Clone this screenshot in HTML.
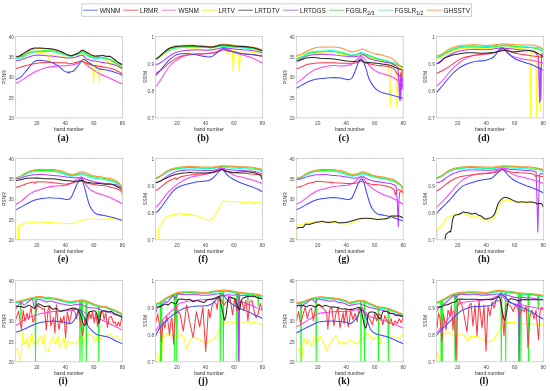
<!DOCTYPE html><html><head><meta charset="utf-8"><style>html,body{margin:0;padding:0;background:#fff;}svg{display:block}</style></head><body>
<svg width="550" height="391" viewBox="0 0 550 391" font-family="Liberation Sans, Arial, sans-serif">
<rect width="550" height="391" fill="#fff"/>
<clipPath id="ca"><rect x="15.50" y="36.50" width="106.90" height="81.40"/></clipPath>
<g clip-path="url(#ca)" fill="none" stroke-width="1.05" stroke-linejoin="round" stroke-linecap="round">
<path stroke="#ffff1a" d="M15.7,58.9C16.5,58.8 19.0,58.9 20.5,58.5C22.0,58.0 23.2,56.9 24.9,56.1C26.5,55.3 28.5,54.1 30.3,53.5C32.1,52.9 33.4,52.5 35.7,52.4C38.1,52.3 42.4,52.5 44.4,52.8C46.4,53.2 47.2,54.3 47.7,54.6L48.8,60.0C49.1,59.3 49.6,56.7 50.5,55.7C51.4,54.6 52.9,53.7 54.2,53.5C55.6,53.3 57.5,53.8 58.6,54.6C59.7,55.3 60.0,57.6 60.7,57.8C61.5,58.0 62.0,55.4 62.9,55.7C63.8,55.9 65.3,59.2 66.2,59.3C67.1,59.5 67.3,57.2 68.3,56.7C69.4,56.2 70.9,56.7 72.7,56.3C74.5,55.9 77.5,55.0 79.2,54.6C80.9,54.1 82.1,53.6 82.7,53.4L84.0,59.2L85.3,65.6L86.5,60.5L87.8,67.5L89.1,61.7C89.4,61.8 90.4,60.9 91.0,62.4C91.7,63.9 92.6,69.3 92.9,70.7L93.6,82.8L94.5,65.6C94.9,65.4 96.1,63.0 96.8,64.3C97.5,65.6 98.4,71.8 98.7,73.2L99.3,82.8L100.2,68.1C100.6,67.3 101.5,64.3 102.5,63.0C103.5,61.7 105.3,60.5 106.4,60.5C107.4,60.5 108.5,62.6 108.9,63.0L110.2,65.6L111.5,61.7C111.9,62.2 113.2,63.7 114.0,64.3C114.9,64.9 115.7,65.0 116.6,65.6C117.4,66.1 118.2,66.9 119.2,67.5C120.1,68.1 121.8,69.1 122.3,69.4"/>
<path stroke="#1affff" d="M15.7,58.3C16.5,58.2 19.0,58.5 20.5,58.0C22.0,57.6 23.2,56.5 24.9,55.7C26.5,54.8 28.5,53.7 30.3,53.0C32.1,52.4 33.7,52.0 35.7,51.7C37.7,51.5 40.1,51.6 42.3,51.5C44.4,51.5 46.8,51.5 48.8,51.5C50.8,51.6 52.4,51.4 54.2,51.7C56.0,52.0 57.8,52.7 59.7,53.3C61.5,53.8 63.5,54.5 65.1,55.0C66.7,55.5 68.0,56.2 69.4,56.3C70.9,56.4 72.2,56.1 73.8,55.7C75.4,55.3 77.7,54.4 79.2,53.9C80.7,53.4 81.4,52.4 82.7,52.8C84.0,53.1 85.2,55.0 87.2,56.0C89.2,56.9 92.5,58.2 94.9,58.5C97.2,58.9 98.9,57.8 101.2,57.9C103.6,58.0 106.4,58.4 108.9,59.2C111.5,59.9 114.4,61.4 116.6,62.4C118.8,63.3 121.4,64.5 122.3,64.9"/>
<path stroke="#1aff1a" d="M15.7,57.2C16.5,57.1 19.0,57.4 20.5,57.0C22.0,56.5 23.2,55.4 24.9,54.6C26.5,53.7 28.5,52.6 30.3,52.0C32.1,51.3 33.7,51.1 35.7,50.9C37.7,50.7 40.1,50.7 42.3,50.7C44.4,50.6 46.8,50.6 48.8,50.7C50.8,50.7 52.4,50.6 54.2,50.9C56.0,51.2 57.8,51.8 59.7,52.4C61.5,52.9 63.5,53.6 65.1,54.1C66.7,54.7 68.0,55.5 69.4,55.7C70.9,55.8 72.2,55.4 73.8,55.0C75.4,54.6 77.7,53.6 79.2,53.0C80.7,52.5 81.4,51.2 82.7,51.5C84.0,51.8 85.2,53.6 87.2,54.7C89.2,55.8 92.5,57.5 94.9,57.9C97.2,58.3 98.9,57.1 101.2,57.3C103.6,57.5 106.4,58.1 108.9,59.2C111.5,60.2 114.4,62.3 116.6,63.7C118.8,65.0 121.4,66.9 122.3,67.5"/>
<path stroke="#ff40ff" d="M15.7,83.3C16.5,82.9 18.6,82.2 20.5,81.1C22.4,80.0 24.5,78.3 27.0,76.7C29.6,75.1 32.5,73.0 35.7,71.5C39.0,70.0 43.0,68.5 46.6,67.6C50.2,66.7 53.9,66.4 57.5,66.1C61.1,65.7 65.4,65.7 68.3,65.4C71.2,65.1 73.1,64.8 74.9,64.3C76.7,63.9 78.0,63.4 79.2,62.8C80.4,62.3 81.0,60.9 82.1,61.1C83.2,61.3 84.0,62.8 85.9,64.3C87.8,65.8 91.0,68.3 93.6,70.1C96.1,71.8 98.7,73.2 101.2,74.5C103.8,75.8 106.4,76.6 108.9,77.7C111.5,78.9 114.4,80.5 116.6,81.6C118.8,82.6 121.4,83.7 122.3,84.1"/>
<path stroke="#b23cff" d="M15.7,60.7C16.5,60.5 18.6,60.5 20.5,60.0C22.4,59.5 24.5,58.2 27.0,57.4C29.6,56.6 32.5,55.5 35.7,55.2C39.0,54.9 43.0,55.4 46.6,55.7C50.2,55.9 53.9,56.3 57.5,56.7C61.1,57.1 65.4,58.0 68.3,58.0C71.2,58.1 73.1,57.5 74.9,57.2C76.7,56.8 77.9,56.2 79.2,55.9C80.5,55.6 81.4,54.8 82.7,55.3C84.0,55.9 85.2,58.2 87.2,59.2C89.2,60.1 92.3,60.6 94.9,61.1C97.4,61.6 100.0,62.0 102.5,62.4C105.1,62.8 107.9,63.1 110.2,63.7C112.5,64.2 114.6,64.7 116.6,65.6C118.6,66.4 121.4,68.2 122.3,68.8"/>
<path stroke="#ff3c46" d="M15.7,68.7C16.9,68.3 20.1,67.2 22.7,66.5C25.3,65.8 28.5,65.0 31.4,64.3C34.3,63.7 37.2,63.2 40.1,62.8C43.0,62.5 45.9,62.2 48.8,62.2C51.7,62.2 54.6,62.7 57.5,62.8C60.4,62.9 64.4,62.7 66.2,62.8C67.9,63.0 66.6,63.6 68.0,63.7C69.4,63.7 72.3,63.4 74.4,63.0C76.5,62.6 79.1,61.2 80.8,61.1C82.5,61.0 82.9,61.7 84.6,62.4C86.3,63.0 88.7,64.3 91.0,64.9C93.4,65.6 96.1,65.8 98.7,66.2C101.2,66.6 103.8,67.0 106.4,67.5C108.9,68.0 111.4,68.4 114.0,69.4C116.7,70.4 121.0,72.8 122.3,73.5"/>
<path stroke="#3c46ff" d="M15.7,79.6C16.5,79.2 18.6,79.0 20.5,77.4C22.4,75.8 24.9,72.3 27.0,69.8C29.2,67.2 31.8,63.7 33.6,62.2C35.4,60.6 36.1,60.7 37.9,60.4C39.7,60.2 42.3,60.4 44.4,60.7C46.6,60.9 48.8,61.4 51.0,62.2C53.1,63.0 55.3,64.0 57.5,65.4C59.7,66.9 62.0,69.6 64.0,70.9C66.0,72.1 68.5,72.7 69.4,73.0L68.0,72.0C68.9,71.9 71.4,72.4 73.1,71.3C74.8,70.3 76.7,67.4 78.2,65.6C79.7,63.8 81.1,61.5 82.1,60.5C83.0,59.4 83.1,59.0 84.0,59.2C84.8,59.4 85.6,60.7 87.2,61.7C88.8,62.8 91.7,64.4 93.6,65.6C95.5,66.7 96.6,68.0 98.7,68.8C100.8,69.5 103.8,69.5 106.4,70.1C108.9,70.6 111.4,71.1 114.0,72.0C116.7,72.8 121.0,74.6 122.3,75.2"/>
<path stroke="#ff9030" d="M15.7,57.0C16.4,56.9 17.9,57.1 19.4,56.5C21.0,55.9 23.1,54.3 24.9,53.3C26.7,52.2 28.7,51.0 30.3,50.2C31.9,49.5 33.0,49.0 34.7,48.7C36.3,48.4 38.1,48.5 40.1,48.5C42.1,48.5 44.6,48.6 46.6,48.7C48.6,48.8 50.2,49.0 52.0,49.3C53.9,49.7 55.7,50.1 57.5,50.7C59.3,51.2 61.1,52.1 62.9,52.8C64.7,53.6 66.9,54.7 68.3,55.2C69.8,55.7 70.3,56.1 71.6,55.9C72.9,55.7 74.7,54.7 76.0,54.1C77.2,53.6 78.1,53.1 79.2,52.4C80.3,51.7 81.4,50.0 82.7,50.0C84.0,50.0 85.4,51.6 87.2,52.5C89.0,53.5 91.7,55.1 93.6,55.6C95.5,56.1 97.2,55.6 98.7,55.6C100.2,55.6 101.2,55.3 102.5,55.3C103.8,55.4 105.1,55.8 106.4,56.0C107.6,56.2 108.9,55.8 110.2,56.4C111.5,56.9 112.5,58.0 114.0,59.2C115.5,60.4 117.8,62.6 119.2,63.7C120.5,64.7 121.8,65.3 122.3,65.6"/>
<path stroke="#262626" d="M15.7,56.3C16.4,56.3 17.9,56.7 19.4,56.1C21.0,55.4 23.1,53.5 24.9,52.4C26.7,51.3 28.7,50.1 30.3,49.3C31.9,48.6 33.0,48.3 34.7,48.0C36.3,47.8 38.1,48.0 40.1,48.0C42.1,48.1 44.6,48.3 46.6,48.5C48.6,48.6 50.2,48.6 52.0,48.9C53.9,49.2 55.7,49.6 57.5,50.2C59.3,50.8 61.1,51.6 62.9,52.4C64.7,53.2 66.9,54.5 68.3,55.0C69.8,55.5 70.3,55.8 71.6,55.7C72.9,55.5 74.7,54.7 76.0,54.1C77.2,53.6 78.1,53.0 79.2,52.4C80.3,51.7 81.4,50.2 82.7,50.2C84.0,50.3 85.4,51.8 87.2,52.8C89.0,53.7 91.7,55.5 93.6,56.0C95.5,56.5 97.2,56.0 98.7,56.0C100.2,55.9 101.2,55.5 102.5,55.6C103.8,55.7 105.1,56.2 106.4,56.4C107.6,56.5 108.9,56.2 110.2,56.6C111.5,57.1 112.5,58.1 114.0,59.2C115.5,60.2 117.8,62.1 119.2,63.0C120.5,63.9 121.8,64.3 122.3,64.6"/>
</g>
<rect x="15.50" y="36.50" width="106.90" height="81.40" fill="none" stroke="#c4c4c4" stroke-width="0.7"/>
<text x="36.88" y="124.60" font-size="4.8" fill="#4a4a4a" text-anchor="middle">20</text>
<text x="65.39" y="124.60" font-size="4.8" fill="#4a4a4a" text-anchor="middle">40</text>
<text x="93.89" y="124.60" font-size="4.8" fill="#4a4a4a" text-anchor="middle">60</text>
<text x="122.40" y="124.60" font-size="4.8" fill="#4a4a4a" text-anchor="middle">80</text>
<text x="13.90" y="120.00" font-size="4.7" fill="#4a4a4a" text-anchor="end">20</text>
<text x="13.90" y="99.65" font-size="4.7" fill="#4a4a4a" text-anchor="end">25</text>
<text x="13.90" y="79.30" font-size="4.7" fill="#4a4a4a" text-anchor="end">30</text>
<text x="13.90" y="58.95" font-size="4.7" fill="#4a4a4a" text-anchor="end">35</text>
<text x="13.90" y="38.60" font-size="4.7" fill="#4a4a4a" text-anchor="end">40</text>
<path d="M36.88,117.90v-1.1M36.88,36.50v1.1M65.39,117.90v-1.1M65.39,36.50v1.1M93.89,117.90v-1.1M93.89,36.50v1.1M122.40,117.90v-1.1M122.40,36.50v1.1M15.50,117.90h1.1M122.40,117.90h-1.1M15.50,97.55h1.1M122.40,97.55h-1.1M15.50,77.20h1.1M122.40,77.20h-1.1M15.50,56.85h1.1M122.40,56.85h-1.1M15.50,36.50h1.1M122.40,36.50h-1.1" stroke="#c4c4c4" stroke-width="0.6" fill="none"/>
<text x="68.95" y="131.00" font-size="5.05" fill="#303030" text-anchor="middle">band number</text>
<text transform="translate(6.40,77.20) rotate(-90)" font-size="5" fill="#303030" text-anchor="middle">PSNR</text>
<text x="63.05" y="140.50" font-size="9.6" font-weight="bold" font-family="Liberation Serif, serif" fill="#111" text-anchor="middle">(a)</text>
<clipPath id="cb"><rect x="155.60" y="36.50" width="106.90" height="81.40"/></clipPath>
<g clip-path="url(#cb)" fill="none" stroke-width="1.05" stroke-linejoin="round" stroke-linecap="round">
<path stroke="#ffff1a" d="M155.7,60.0C156.9,59.2 160.1,56.9 162.7,55.2C165.3,53.5 168.5,51.0 171.4,49.8C174.3,48.6 177.6,48.2 180.1,47.8C182.6,47.5 185.2,46.8 186.6,47.6C188.1,48.4 188.1,52.1 188.8,52.4C189.4,52.6 189.1,49.7 190.5,49.1C192.0,48.6 196.0,48.8 197.5,49.1C199.0,49.5 199.0,51.3 199.7,51.3C200.3,51.3 200.1,49.3 201.4,49.1C202.7,48.9 205.7,50.0 207.3,50.2C208.8,50.4 208.9,50.6 210.5,50.2C212.2,49.9 214.9,48.6 217.0,48.0C219.2,47.5 222.1,46.6 223.6,47.0C225.0,47.3 225.0,48.9 225.7,50.2C226.5,51.5 227.6,53.8 227.9,54.6L229.0,48.0C229.5,48.4 231.7,49.9 232.3,50.2L233.3,72.0L234.4,51.3C235.0,51.5 236.9,48.9 237.7,52.4C238.5,55.8 239.0,68.7 239.2,72.0L240.5,52.4C241.3,52.2 243.4,51.3 245.3,51.3C247.2,51.3 250.0,52.2 251.8,52.4C253.6,52.6 254.4,52.1 256.2,52.4C257.9,52.7 261.2,53.8 262.3,54.1"/>
<path stroke="#1affff" d="M155.7,59.8C156.2,59.5 157.2,59.1 158.3,58.3C159.5,57.4 161.2,55.7 162.7,54.6C164.1,53.4 165.6,52.4 167.0,51.5C168.5,50.7 169.9,49.9 171.4,49.3C172.8,48.8 173.9,48.4 175.7,48.0C177.6,47.7 180.1,47.5 182.3,47.4C184.4,47.2 186.6,47.2 188.8,47.2C191.0,47.1 193.1,47.1 195.3,47.2C197.5,47.2 199.7,47.3 201.8,47.4C204.0,47.5 206.5,47.8 208.3,47.8C210.2,47.9 211.2,47.8 212.7,47.6C214.1,47.5 215.6,47.2 217.0,47.0C218.5,46.7 219.9,46.4 221.4,46.3C222.8,46.2 224.3,46.4 225.7,46.5C227.2,46.6 228.3,46.8 230.1,47.0C231.9,47.1 234.4,47.4 236.6,47.6C238.8,47.8 241.0,47.9 243.1,48.0C245.3,48.2 247.5,48.3 249.7,48.5C251.8,48.7 254.1,48.9 256.2,49.3C258.3,49.8 261.2,50.8 262.3,51.1"/>
<path stroke="#1aff1a" d="M155.7,58.9C156.2,58.7 157.2,58.3 158.3,57.4C159.5,56.5 161.2,54.8 162.7,53.7C164.1,52.6 165.6,51.5 167.0,50.7C168.5,49.8 169.9,49.0 171.4,48.5C172.8,47.9 173.9,47.7 175.7,47.4C177.6,47.1 180.1,46.9 182.3,46.7C184.4,46.6 186.6,46.6 188.8,46.5C191.0,46.5 193.1,46.4 195.3,46.5C197.5,46.6 199.7,46.8 201.8,47.0C204.0,47.1 206.5,47.5 208.3,47.6C210.2,47.7 211.2,47.6 212.7,47.4C214.1,47.2 215.6,46.8 217.0,46.5C218.5,46.2 219.9,45.8 221.4,45.7C222.8,45.5 224.3,45.8 225.7,45.9C227.2,46.0 228.3,46.1 230.1,46.3C231.9,46.5 234.4,46.8 236.6,47.0C238.8,47.1 241.0,47.2 243.1,47.4C245.3,47.6 247.5,47.7 249.7,48.0C251.8,48.4 254.1,48.8 256.2,49.3C258.3,49.9 261.2,51.2 262.3,51.5"/>
<path stroke="#ff40ff" d="M156.1,86.3C156.9,85.1 159.0,82.4 161.0,79.3C163.0,76.3 165.8,71.1 168.1,68.0C170.5,65.0 172.8,62.9 175.1,61.1C177.4,59.2 179.7,58.0 182.0,57.0C184.4,55.9 186.9,55.3 189.2,54.8C191.6,54.3 193.9,54.3 196.2,54.1C198.5,53.9 200.8,53.9 203.1,53.7C205.4,53.5 207.8,53.4 210.1,53.0C212.4,52.7 214.8,52.1 217.0,51.5C219.3,51.0 221.6,49.9 223.6,49.8C225.6,49.6 227.2,50.2 229.0,50.7C230.8,51.1 232.4,51.7 234.4,52.4C236.4,53.0 238.1,53.7 241.0,54.6C243.9,55.5 248.3,56.4 251.8,57.8C255.4,59.2 260.5,62.0 262.3,62.8"/>
<path stroke="#b23cff" d="M155.7,64.8C156.5,64.5 158.6,64.0 160.5,62.8C162.4,61.7 164.9,59.4 167.0,57.8C169.2,56.3 171.4,54.6 173.6,53.5C175.7,52.4 177.6,51.8 180.1,51.3C182.6,50.8 185.9,50.5 188.8,50.2C191.7,50.0 194.6,49.8 197.5,49.8C200.4,49.8 203.6,50.2 206.2,50.2C208.7,50.2 210.5,50.1 212.7,49.8C214.9,49.5 217.4,48.8 219.2,48.5C221.0,48.1 221.8,47.6 223.6,47.6C225.4,47.6 227.9,48.2 230.1,48.5C232.3,48.8 234.4,49.1 236.6,49.3C238.8,49.6 241.0,49.6 243.1,49.8C245.3,49.9 247.5,50.0 249.7,50.2C251.8,50.4 254.1,50.7 256.2,51.1C258.3,51.5 261.2,52.5 262.3,52.8"/>
<path stroke="#ff3c46" d="M156.1,73.0C156.9,72.6 159.0,71.7 161.0,70.2C163.0,68.7 165.8,65.8 168.1,63.9C170.5,62.0 172.8,60.2 175.1,58.9C177.4,57.6 179.7,56.8 182.0,56.1C184.4,55.4 186.9,55.1 189.2,54.8C191.6,54.5 193.9,54.2 196.2,54.1C198.5,54.0 200.8,54.2 203.1,54.1C205.4,54.0 207.8,53.8 210.1,53.5C212.4,53.2 214.8,53.0 217.0,52.4C219.3,51.8 221.4,50.0 223.6,49.8C225.7,49.6 227.2,50.7 230.1,51.3C233.0,51.9 237.3,52.9 241.0,53.5C244.6,54.0 248.3,54.1 251.8,54.6C255.4,55.0 260.5,56.0 262.3,56.3"/>
<path stroke="#3c46ff" d="M156.1,75.2C156.9,74.3 159.0,71.9 161.0,69.6C163.0,67.2 165.8,63.4 168.1,61.1C170.5,58.7 172.8,56.7 175.1,55.4C177.4,54.2 179.7,54.0 182.0,53.7C184.4,53.4 186.9,53.5 189.2,53.7C191.6,53.9 193.9,54.3 196.2,54.8C198.5,55.2 201.1,55.9 203.1,56.3C205.2,56.7 206.8,57.0 208.3,57.0C209.9,56.9 210.9,57.1 212.7,56.1C214.5,55.0 217.4,51.9 219.2,50.7C221.0,49.4 221.8,48.5 223.6,48.5C225.4,48.5 227.2,49.8 230.1,50.7C233.0,51.5 237.3,52.8 241.0,53.5C244.6,54.1 248.3,54.2 251.8,54.6C255.4,55.0 260.5,55.7 262.3,55.9"/>
<path stroke="#ff9030" d="M155.7,59.6C156.2,59.3 157.2,58.8 158.3,57.8C159.5,56.8 161.2,55.0 162.7,53.7C164.1,52.4 165.6,50.8 167.0,49.8C168.5,48.7 169.9,48.0 171.4,47.4C172.8,46.8 173.9,46.4 175.7,46.1C177.6,45.8 180.1,45.6 182.3,45.4C184.4,45.3 186.6,45.2 188.8,45.2C191.0,45.2 193.1,45.3 195.3,45.4C197.5,45.5 199.7,45.7 201.8,45.9C204.0,46.1 206.5,46.4 208.3,46.5C210.2,46.6 211.2,46.7 212.7,46.5C214.1,46.3 215.6,45.8 217.0,45.4C218.5,45.1 219.9,44.5 221.4,44.3C222.8,44.2 224.3,44.3 225.7,44.3C227.2,44.4 228.3,44.6 230.1,44.8C231.9,45.0 234.4,45.4 236.6,45.7C238.8,45.9 241.0,45.9 243.1,46.1C245.3,46.3 247.5,46.4 249.7,46.7C251.8,47.0 254.1,47.3 256.2,47.8C258.3,48.3 261.2,49.5 262.3,49.8"/>
<path stroke="#262626" d="M155.7,59.1C156.2,58.8 157.2,58.3 158.3,57.4C159.5,56.4 161.2,54.7 162.7,53.5C164.1,52.2 165.6,50.8 167.0,49.8C168.5,48.8 169.9,48.2 171.4,47.6C172.8,47.1 173.9,46.8 175.7,46.5C177.6,46.2 180.1,46.0 182.3,45.9C184.4,45.7 186.6,45.7 188.8,45.7C191.0,45.7 193.1,45.8 195.3,45.9C197.5,46.0 199.7,46.1 201.8,46.3C204.0,46.5 206.5,46.8 208.3,47.0C210.2,47.1 211.2,47.1 212.7,47.0C214.1,46.8 215.6,46.2 217.0,45.9C218.5,45.5 219.9,45.1 221.4,45.0C222.8,44.9 224.3,44.9 225.7,45.0C227.2,45.1 228.3,45.2 230.1,45.4C231.9,45.7 234.4,46.1 236.6,46.3C238.8,46.5 241.0,46.4 243.1,46.5C245.3,46.7 247.5,46.8 249.7,47.2C251.8,47.5 254.1,47.9 256.2,48.5C258.3,49.1 261.2,50.3 262.3,50.7"/>
</g>
<rect x="155.60" y="36.50" width="106.90" height="81.40" fill="none" stroke="#c4c4c4" stroke-width="0.7"/>
<text x="176.98" y="124.60" font-size="4.8" fill="#4a4a4a" text-anchor="middle">20</text>
<text x="205.49" y="124.60" font-size="4.8" fill="#4a4a4a" text-anchor="middle">40</text>
<text x="233.99" y="124.60" font-size="4.8" fill="#4a4a4a" text-anchor="middle">60</text>
<text x="262.50" y="124.60" font-size="4.8" fill="#4a4a4a" text-anchor="middle">80</text>
<text x="154.00" y="120.00" font-size="4.7" fill="#4a4a4a" text-anchor="end">0.7</text>
<text x="154.00" y="92.87" font-size="4.7" fill="#4a4a4a" text-anchor="end">0.8</text>
<text x="154.00" y="65.73" font-size="4.7" fill="#4a4a4a" text-anchor="end">0.9</text>
<text x="154.00" y="38.60" font-size="4.7" fill="#4a4a4a" text-anchor="end">1</text>
<path d="M176.98,117.90v-1.1M176.98,36.50v1.1M205.49,117.90v-1.1M205.49,36.50v1.1M233.99,117.90v-1.1M233.99,36.50v1.1M262.50,117.90v-1.1M262.50,36.50v1.1M155.60,117.90h1.1M262.50,117.90h-1.1M155.60,90.77h1.1M262.50,90.77h-1.1M155.60,63.63h1.1M262.50,63.63h-1.1M155.60,36.50h1.1M262.50,36.50h-1.1" stroke="#c4c4c4" stroke-width="0.6" fill="none"/>
<text x="209.05" y="131.00" font-size="5.05" fill="#303030" text-anchor="middle">band number</text>
<text transform="translate(146.50,77.20) rotate(-90)" font-size="5" fill="#303030" text-anchor="middle">SSIM</text>
<text x="203.15" y="140.50" font-size="9.6" font-weight="bold" font-family="Liberation Serif, serif" fill="#111" text-anchor="middle">(b)</text>
<clipPath id="cc"><rect x="296.30" y="36.50" width="106.90" height="81.40"/></clipPath>
<g clip-path="url(#cc)" fill="none" stroke-width="1.05" stroke-linejoin="round" stroke-linecap="round">
<path stroke="#ffff1a" d="M296.3,56.7C297.2,56.5 299.6,55.9 301.5,55.2C303.5,54.5 305.9,52.9 308.0,52.4C310.2,51.9 312.4,52.3 314.6,52.4C316.7,52.5 318.9,52.7 321.1,52.8C323.3,53.0 325.4,53.2 327.6,53.3C329.8,53.4 332.0,53.4 334.1,53.5C336.3,53.6 338.5,53.7 340.7,53.9C342.8,54.2 345.0,54.6 347.2,55.0C349.3,55.4 351.5,56.1 353.7,56.1C355.9,56.1 358.4,55.0 360.2,55.0C362.0,55.0 362.8,55.5 364.6,56.1C366.4,56.6 368.9,57.6 371.1,58.3C373.3,58.9 375.4,59.5 377.6,60.0C379.8,60.5 382.3,60.7 384.1,61.1C385.9,61.4 387.8,62.0 388.5,62.2L389.3,78.5L390.2,106.7L391.1,78.5L392.0,64.3C392.5,64.5 394.5,65.3 395.0,65.4L395.9,78.5L396.7,106.7L397.6,78.5L398.5,67.6C399.0,67.8 400.7,68.4 401.5,68.7C402.3,69.0 403.0,69.2 403.3,69.3"/>
<path stroke="#1affff" d="M296.3,58.5C297.2,58.2 299.6,57.7 301.5,56.7C303.5,55.8 305.9,53.7 308.0,52.8C310.2,52.0 312.4,51.8 314.6,51.5C316.7,51.2 318.9,51.0 321.1,50.9C323.3,50.7 325.4,50.7 327.6,50.7C329.8,50.6 332.0,50.4 334.1,50.7C336.3,50.9 338.5,51.4 340.7,52.0C342.8,52.5 345.4,53.2 347.2,53.7C349.0,54.2 350.1,54.9 351.5,55.0C353.0,55.1 354.4,55.0 355.9,54.6C357.3,54.1 358.8,52.6 360.2,52.4C361.7,52.2 362.8,52.9 364.6,53.5C366.4,54.1 368.9,55.3 371.1,56.1C373.3,56.9 375.4,57.8 377.6,58.5C379.8,59.1 382.0,59.4 384.1,60.0C386.3,60.6 388.8,61.6 390.7,62.2C392.5,62.7 393.6,62.7 395.0,63.3C396.4,63.8 398.0,64.9 399.3,65.4C400.7,66.0 402.6,66.3 403.3,66.5"/>
<path stroke="#1aff1a" d="M296.3,59.3C297.2,59.1 299.6,58.7 301.5,57.8C303.5,57.0 305.9,55.0 308.0,54.1C310.2,53.2 312.4,52.8 314.6,52.4C316.7,52.0 318.9,51.7 321.1,51.5C323.3,51.3 325.4,51.3 327.6,51.3C329.8,51.3 332.0,51.3 334.1,51.5C336.3,51.8 338.5,52.3 340.7,52.8C342.8,53.3 345.4,54.1 347.2,54.6C349.0,55.0 350.1,55.6 351.5,55.7C353.0,55.7 354.4,55.4 355.9,55.0C357.3,54.6 358.8,53.6 360.2,53.5C361.7,53.4 362.8,54.0 364.6,54.6C366.4,55.1 368.9,56.0 371.1,56.7C373.3,57.5 375.4,58.3 377.6,58.9C379.8,59.6 382.0,60.0 384.1,60.7C386.3,61.3 388.8,62.2 390.7,62.8C392.5,63.4 393.6,63.9 395.0,64.3C396.4,64.8 398.0,65.0 399.3,65.4C400.7,65.9 402.6,66.9 403.3,67.2"/>
<path stroke="#b23cff" d="M296.3,60.7C297.2,60.4 299.6,59.7 301.5,58.9C303.5,58.1 305.9,56.4 308.0,55.7C310.2,54.9 312.4,54.8 314.6,54.6C316.7,54.3 318.9,54.1 321.1,54.1C323.3,54.1 325.4,54.4 327.6,54.6C329.8,54.7 332.0,54.8 334.1,55.0C336.3,55.2 338.5,55.4 340.7,55.7C342.8,55.9 345.0,56.1 347.2,56.3C349.3,56.5 351.5,56.8 353.7,56.7C355.9,56.6 358.8,56.0 360.2,55.7C361.7,55.3 361.3,54.4 362.4,54.6C363.5,54.7 365.3,55.9 366.7,56.7C368.2,57.5 369.3,58.7 371.1,59.3C372.9,60.0 375.4,60.2 377.6,60.7C379.8,61.1 382.0,61.7 384.1,62.2C386.3,62.6 388.8,62.7 390.7,63.3C392.5,63.8 393.8,64.8 395.0,65.4C396.2,66.1 397.5,66.9 398.0,67.2L398.9,85.0L399.6,100.2L400.2,74.1L400.9,100.2L401.5,72.0L402.2,89.3L403.3,69.8"/>
<path stroke="#ff40ff" d="M296.3,83.3C297.2,82.6 299.6,81.1 301.5,79.6C303.5,78.0 305.9,75.8 308.0,74.1C310.2,72.5 312.4,70.9 314.6,69.8C316.7,68.7 318.9,68.3 321.1,67.6C323.3,67.0 325.4,66.2 327.6,65.9C329.8,65.5 332.0,65.4 334.1,65.4C336.3,65.4 338.5,65.9 340.7,65.9C342.8,65.9 345.4,65.7 347.2,65.4C349.0,65.2 350.1,65.1 351.5,64.3C353.0,63.6 354.4,61.9 355.9,60.7C357.3,59.4 358.9,57.2 360.2,56.7C361.5,56.3 362.4,56.9 363.5,57.8C364.6,58.7 365.5,60.5 366.7,62.2C368.0,63.8 369.3,66.0 371.1,67.6C372.9,69.2 375.4,70.9 377.6,72.0C379.8,73.0 382.0,73.4 384.1,74.1C386.3,74.9 388.8,75.6 390.7,76.3C392.5,77.0 393.6,77.6 395.0,78.5C396.4,79.4 398.0,80.7 399.3,81.7C400.7,82.8 402.6,84.1 403.3,84.6"/>
<path stroke="#ff3c46" d="M296.3,68.7C296.8,68.6 298.1,68.5 299.3,68.0C300.6,67.6 302.2,66.5 303.7,65.9C305.1,65.3 306.2,64.8 308.0,64.3C309.9,63.9 312.4,63.5 314.6,63.3C316.7,63.0 318.9,62.9 321.1,62.8C323.3,62.8 325.4,62.8 327.6,62.8C329.8,62.8 332.0,62.8 334.1,62.8C336.3,62.9 338.5,63.2 340.7,63.3C342.8,63.3 345.0,63.3 347.2,63.3C349.3,63.3 351.9,63.4 353.7,63.3C355.5,63.1 356.8,62.5 358.0,62.2C359.3,61.8 360.2,61.0 361.3,61.1C362.4,61.2 362.9,62.3 364.6,62.8C366.2,63.4 368.9,63.9 371.1,64.3C373.3,64.8 375.4,65.2 377.6,65.4C379.8,65.7 382.0,65.6 384.1,65.9C386.3,66.2 388.8,66.5 390.7,67.2C392.5,67.8 393.9,68.6 395.0,69.8C396.1,70.9 396.4,73.0 397.2,74.1C397.9,75.2 398.6,76.7 399.3,76.3C400.1,75.9 400.9,72.5 401.5,72.0C402.2,71.4 403.0,72.9 403.3,73.0"/>
<path stroke="#3c46ff" d="M296.3,88.3C297.2,87.8 299.6,86.5 301.5,85.4C303.5,84.3 305.9,82.7 308.0,81.7C310.2,80.8 312.4,80.1 314.6,79.6C316.7,79.0 318.9,78.7 321.1,78.5C323.3,78.2 325.4,78.2 327.6,78.0C329.8,77.9 332.0,77.6 334.1,77.6C336.3,77.6 338.5,77.7 340.7,78.0C342.8,78.4 345.4,79.5 347.2,79.6C349.0,79.6 350.3,79.7 351.5,78.5C352.8,77.2 353.7,74.5 354.8,72.0C355.9,69.4 357.1,65.4 358.0,63.3C358.9,61.1 359.5,59.5 360.2,58.9C360.9,58.4 361.5,58.6 362.4,60.0C363.3,61.4 364.6,64.5 365.7,67.6C366.7,70.7 367.6,75.4 368.9,78.5C370.2,81.6 371.8,84.1 373.3,86.1C374.7,88.1 376.2,89.3 377.6,90.4C379.1,91.5 380.1,92.0 382.0,92.6C383.8,93.2 386.3,93.6 388.5,94.1C390.7,94.7 393.2,95.3 395.0,95.9C396.8,96.4 398.0,97.0 399.3,97.4C400.7,97.8 402.6,97.9 403.3,98.0"/>
<path stroke="#262626" d="M296.3,61.1C296.8,61.0 298.1,61.0 299.3,60.7C300.6,60.3 302.2,59.4 303.7,58.9C305.1,58.4 306.2,58.0 308.0,57.8C309.9,57.6 312.4,57.5 314.6,57.6C316.7,57.7 318.9,58.1 321.1,58.3C323.3,58.4 325.4,58.4 327.6,58.5C329.8,58.6 332.0,58.7 334.1,58.9C336.3,59.2 338.5,59.6 340.7,60.0C342.8,60.4 345.0,60.8 347.2,61.1C349.3,61.3 351.9,61.5 353.7,61.5C355.5,61.5 356.8,61.3 358.0,61.1C359.3,60.8 360.2,59.8 361.3,60.0C362.4,60.2 362.9,61.7 364.6,62.2C366.2,62.6 368.9,62.6 371.1,62.8C373.3,63.0 375.4,63.0 377.6,63.3C379.8,63.5 382.0,64.0 384.1,64.3C386.3,64.7 388.8,65.0 390.7,65.4C392.5,65.9 393.7,66.6 395.0,67.2C396.3,67.7 397.2,68.3 398.3,68.7C399.3,69.1 400.7,69.4 401.5,69.8C402.4,70.1 403.0,70.7 403.3,70.9"/>
<path stroke="#ff9030" d="M296.3,55.7C297.2,55.4 299.6,55.0 301.5,54.1C303.5,53.3 305.9,51.7 308.0,50.7C310.2,49.6 312.4,48.7 314.6,48.0C316.7,47.4 318.9,47.1 321.1,47.0C323.3,46.8 325.4,47.2 327.6,47.2C329.8,47.2 332.0,46.8 334.1,47.0C336.3,47.1 338.5,47.5 340.7,48.0C342.8,48.6 345.4,49.6 347.2,50.2C349.0,50.9 350.1,51.8 351.5,52.0C353.0,52.1 354.4,51.7 355.9,51.3C357.3,50.9 359.1,50.1 360.2,49.8C361.3,49.4 361.3,49.0 362.4,49.1C363.5,49.3 364.9,49.9 366.7,50.7C368.6,51.4 371.1,52.8 373.3,53.5C375.4,54.1 377.6,54.1 379.8,54.6C382.0,55.0 384.5,55.8 386.3,56.3C388.1,56.8 389.2,57.0 390.7,57.8C392.1,58.6 393.6,59.8 395.0,61.1C396.4,62.4 398.3,64.3 399.3,65.4C400.4,66.5 401.2,67.2 401.5,67.6L402.6,76.3L403.3,78.5"/>
</g>
<rect x="296.30" y="36.50" width="106.90" height="81.40" fill="none" stroke="#c4c4c4" stroke-width="0.7"/>
<text x="317.68" y="124.60" font-size="4.8" fill="#4a4a4a" text-anchor="middle">20</text>
<text x="346.19" y="124.60" font-size="4.8" fill="#4a4a4a" text-anchor="middle">40</text>
<text x="374.69" y="124.60" font-size="4.8" fill="#4a4a4a" text-anchor="middle">60</text>
<text x="403.20" y="124.60" font-size="4.8" fill="#4a4a4a" text-anchor="middle">80</text>
<text x="294.70" y="120.00" font-size="4.7" fill="#4a4a4a" text-anchor="end">20</text>
<text x="294.70" y="99.65" font-size="4.7" fill="#4a4a4a" text-anchor="end">25</text>
<text x="294.70" y="79.30" font-size="4.7" fill="#4a4a4a" text-anchor="end">30</text>
<text x="294.70" y="58.95" font-size="4.7" fill="#4a4a4a" text-anchor="end">35</text>
<text x="294.70" y="38.60" font-size="4.7" fill="#4a4a4a" text-anchor="end">40</text>
<path d="M317.68,117.90v-1.1M317.68,36.50v1.1M346.19,117.90v-1.1M346.19,36.50v1.1M374.69,117.90v-1.1M374.69,36.50v1.1M403.20,117.90v-1.1M403.20,36.50v1.1M296.30,117.90h1.1M403.20,117.90h-1.1M296.30,97.55h1.1M403.20,97.55h-1.1M296.30,77.20h1.1M403.20,77.20h-1.1M296.30,56.85h1.1M403.20,56.85h-1.1M296.30,36.50h1.1M403.20,36.50h-1.1" stroke="#c4c4c4" stroke-width="0.6" fill="none"/>
<text x="349.75" y="131.00" font-size="5.05" fill="#303030" text-anchor="middle">band number</text>
<text transform="translate(287.20,77.20) rotate(-90)" font-size="5" fill="#303030" text-anchor="middle">PSNR</text>
<text x="343.85" y="140.50" font-size="9.6" font-weight="bold" font-family="Liberation Serif, serif" fill="#111" text-anchor="middle">(c)</text>
<clipPath id="cd"><rect x="436.40" y="36.50" width="106.90" height="81.40"/></clipPath>
<g clip-path="url(#cd)" fill="none" stroke-width="1.05" stroke-linejoin="round" stroke-linecap="round">
<path stroke="#ffff1a" d="M436.3,59.3C437.2,58.9 439.6,57.8 441.5,56.7C443.5,55.7 445.9,53.9 448.0,52.8C450.2,51.7 452.4,50.9 454.6,50.2C456.7,49.5 458.9,49.1 461.1,48.7C463.3,48.3 465.4,48.2 467.6,48.0C469.8,47.9 472.0,48.0 474.1,48.0C476.3,48.1 478.5,48.4 480.7,48.5C482.8,48.6 485.0,48.8 487.2,48.7C489.3,48.6 491.5,48.3 493.7,48.0C495.9,47.8 498.0,47.3 500.2,47.2C502.4,47.1 504.6,47.2 506.7,47.4C508.9,47.5 511.1,47.9 513.3,48.0C515.4,48.2 517.6,48.3 519.8,48.5C522.0,48.7 524.6,48.9 526.3,49.1C528.0,49.3 529.2,49.7 529.8,49.8L530.7,117.6L531.5,52.4C531.9,52.5 533.2,52.6 533.9,52.8C534.6,53.0 535.5,53.4 535.9,53.5L536.7,117.6L537.6,54.6C537.9,54.7 539.1,55.5 539.3,55.7L540.2,111.1L541.1,56.7C541.4,56.9 542.9,57.6 543.3,57.8"/>
<path stroke="#1affff" d="M436.3,57.2C437.2,56.8 439.6,56.0 441.5,55.0C443.5,54.0 445.9,52.2 448.0,51.1C450.2,49.9 452.4,48.8 454.6,48.0C456.7,47.3 458.9,46.8 461.1,46.5C463.3,46.2 465.4,46.2 467.6,46.1C469.8,46.0 472.0,45.8 474.1,45.9C476.3,45.9 478.5,46.2 480.7,46.3C482.8,46.4 485.0,46.6 487.2,46.5C489.3,46.4 491.5,46.1 493.7,45.9C495.9,45.6 498.0,45.1 500.2,45.0C502.4,44.9 504.6,45.1 506.7,45.2C508.9,45.4 511.1,45.7 513.3,45.9C515.4,46.1 517.6,46.2 519.8,46.3C522.0,46.4 524.1,46.6 526.3,46.7C528.5,46.9 531.0,47.0 532.8,47.2C534.6,47.3 535.7,47.3 537.2,47.6C538.6,47.9 540.5,48.5 541.5,48.9C542.5,49.3 543.0,50.0 543.3,50.2"/>
<path stroke="#1aff1a" d="M436.3,58.0C437.2,57.7 439.6,56.9 441.5,55.9C443.5,54.9 445.9,53.1 448.0,52.0C450.2,50.8 452.4,49.7 454.6,48.9C456.7,48.2 458.9,47.7 461.1,47.4C463.3,47.1 465.4,47.1 467.6,47.0C469.8,46.8 472.0,46.7 474.1,46.7C476.3,46.8 478.5,47.1 480.7,47.2C482.8,47.3 485.0,47.5 487.2,47.4C489.3,47.3 491.5,47.0 493.7,46.7C495.9,46.5 498.0,46.0 500.2,45.9C502.4,45.7 504.6,45.8 506.7,45.9C508.9,45.9 511.1,46.1 513.3,46.3C515.4,46.5 517.6,46.8 519.8,47.0C522.0,47.1 524.1,47.2 526.3,47.4C528.5,47.6 531.0,47.8 532.8,48.0C534.6,48.3 535.7,48.3 537.2,48.7C538.6,49.1 540.5,50.1 541.5,50.7C542.5,51.2 543.0,51.7 543.3,52.0"/>
<path stroke="#b23cff" d="M436.3,63.3C436.8,63.1 438.1,62.9 439.3,62.2C440.6,61.4 442.2,60.0 443.7,58.9C445.1,57.8 446.2,56.7 448.0,55.7C449.9,54.6 452.4,53.2 454.6,52.4C456.7,51.6 458.9,51.1 461.1,50.7C463.3,50.2 465.4,50.0 467.6,49.8C469.8,49.6 472.0,49.4 474.1,49.3C476.3,49.3 478.5,49.5 480.7,49.6C482.8,49.6 485.0,49.9 487.2,49.8C489.3,49.7 491.5,49.4 493.7,49.1C495.9,48.8 498.0,48.2 500.2,48.0C502.4,47.9 504.6,48.3 506.7,48.5C508.9,48.7 511.1,48.9 513.3,49.1C515.4,49.3 517.6,49.6 519.8,49.8C522.0,50.0 524.5,50.1 526.3,50.2C528.1,50.4 529.2,50.4 530.7,50.7C532.1,50.9 533.7,50.9 535.0,52.0C536.3,53.0 537.7,55.9 538.3,56.7L538.9,78.5L539.6,102.4L540.2,67.6L540.9,100.2L541.5,54.6C541.8,54.4 543.0,53.7 543.3,53.5"/>
<path stroke="#ff40ff" d="M436.3,86.3C437.4,85.3 440.8,82.5 443.0,80.0C445.3,77.5 447.7,74.1 450.0,71.5C452.3,68.9 454.6,66.6 457.0,64.6C459.3,62.6 461.6,61.0 463.9,59.6C466.3,58.2 468.7,56.9 471.1,56.1C473.4,55.3 475.7,55.1 478.0,54.8C480.4,54.5 482.7,54.4 485.0,54.1C487.3,53.9 489.8,53.7 492.0,53.3C494.1,52.8 496.7,52.0 498.0,51.3C499.4,50.6 499.3,49.6 500.2,49.1C501.1,48.7 502.4,48.1 503.5,48.5C504.6,48.8 505.5,50.1 506.7,51.3C508.0,52.5 509.3,54.6 511.1,55.7C512.9,56.7 515.4,57.2 517.6,57.8C519.8,58.4 522.0,59.0 524.1,59.3C526.3,59.7 528.5,59.6 530.7,60.0C532.8,60.4 535.1,61.0 537.2,61.5C539.3,62.1 542.2,63.0 543.3,63.3"/>
<path stroke="#ff3c46" d="M436.3,73.7C437.4,73.1 440.8,71.5 443.0,70.2C445.3,68.9 447.7,67.6 450.0,66.1C452.3,64.6 454.6,62.5 457.0,61.1C459.3,59.7 461.6,58.5 463.9,57.6C466.3,56.7 468.7,56.3 471.1,55.9C473.4,55.4 475.7,55.1 478.0,54.8C480.4,54.5 482.7,54.4 485.0,54.1C487.3,53.9 490.1,53.6 492.0,53.3C493.8,52.9 494.5,52.5 495.9,52.0C497.2,51.4 498.8,50.8 500.2,50.2C501.7,49.6 503.1,48.4 504.6,48.5C506.0,48.6 507.5,49.9 508.9,50.7C510.4,51.4 511.4,52.2 513.3,52.8C515.1,53.4 517.6,53.8 519.8,54.1C522.0,54.5 524.5,54.7 526.3,55.0C528.1,55.3 529.2,55.4 530.7,55.7C532.1,55.9 533.6,56.1 535.0,56.3C536.4,56.5 538.0,56.6 539.3,56.7C540.7,56.9 542.6,57.1 543.3,57.2"/>
<path stroke="#3c46ff" d="M436.3,92.8C437.4,91.5 440.8,87.7 443.0,85.0C445.3,82.3 447.7,79.1 450.0,76.5C452.3,73.9 454.6,71.4 457.0,69.6C459.3,67.7 461.6,66.4 463.9,65.2C466.3,64.0 468.7,63.1 471.1,62.4C473.4,61.7 475.7,61.4 478.0,61.1C480.4,60.8 482.8,60.9 485.0,60.4C487.2,60.0 489.5,59.3 491.1,58.5C492.7,57.7 493.6,56.8 494.8,55.7C495.9,54.5 497.0,52.6 498.0,51.3C499.1,50.0 500.4,48.5 501.3,48.0C502.2,47.6 502.6,47.8 503.5,48.5C504.4,49.1 505.7,50.9 506.7,52.0C507.8,53.0 508.9,54.0 510.0,55.0C511.1,56.0 512.0,57.0 513.3,57.8C514.5,58.7 515.8,59.3 517.6,60.0C519.4,60.7 522.0,61.4 524.1,62.2C526.3,62.9 528.5,63.5 530.7,64.3C532.8,65.2 535.1,66.2 537.2,67.2C539.3,68.2 542.2,69.9 543.3,70.4"/>
<path stroke="#262626" d="M436.3,63.9C436.8,63.7 438.1,63.7 439.3,62.8C440.6,61.9 442.2,59.5 443.7,58.5C445.1,57.5 446.2,57.4 448.0,56.7C449.9,56.1 452.4,55.1 454.6,54.6C456.7,54.0 458.9,53.8 461.1,53.5C463.3,53.2 465.4,52.9 467.6,52.8C469.8,52.7 472.0,52.8 474.1,52.8C476.3,52.9 478.5,53.2 480.7,53.3C482.8,53.3 485.0,53.2 487.2,53.0C489.3,52.9 491.5,52.7 493.7,52.4C495.9,52.1 498.4,51.7 500.2,51.3C502.0,50.9 503.1,50.3 504.6,50.2C506.0,50.2 507.5,50.8 508.9,51.1C510.4,51.4 511.4,51.9 513.3,52.0C515.1,52.0 517.6,51.5 519.8,51.3C522.0,51.1 524.5,50.8 526.3,50.7C528.1,50.5 529.2,50.4 530.7,50.7C532.1,50.9 533.6,51.4 535.0,52.0C536.4,52.5 538.0,53.3 539.3,54.1C540.7,54.9 542.6,56.3 543.3,56.7"/>
<path stroke="#ff9030" d="M436.3,56.3C437.2,55.9 439.6,55.2 441.5,54.1C443.5,53.0 445.9,51.0 448.0,49.8C450.2,48.6 452.4,47.7 454.6,47.0C456.7,46.2 458.9,45.8 461.1,45.4C463.3,45.1 465.4,45.1 467.6,45.0C469.8,44.9 472.0,44.8 474.1,44.8C476.3,44.8 478.5,44.9 480.7,45.0C482.8,45.1 485.0,45.4 487.2,45.4C489.3,45.4 491.5,45.2 493.7,45.0C495.9,44.8 498.0,44.3 500.2,44.1C502.4,44.0 504.6,44.1 506.7,44.1C508.9,44.2 511.1,44.5 513.3,44.6C515.4,44.7 517.6,44.7 519.8,44.8C522.0,44.9 524.1,44.9 526.3,45.0C528.5,45.1 531.0,45.1 532.8,45.2C534.6,45.4 535.7,45.4 537.2,45.9C538.6,46.3 540.5,47.4 541.5,48.0C542.5,48.7 543.0,49.5 543.3,49.8"/>
</g>
<rect x="436.40" y="36.50" width="106.90" height="81.40" fill="none" stroke="#c4c4c4" stroke-width="0.7"/>
<text x="457.78" y="124.60" font-size="4.8" fill="#4a4a4a" text-anchor="middle">20</text>
<text x="486.29" y="124.60" font-size="4.8" fill="#4a4a4a" text-anchor="middle">40</text>
<text x="514.79" y="124.60" font-size="4.8" fill="#4a4a4a" text-anchor="middle">60</text>
<text x="543.30" y="124.60" font-size="4.8" fill="#4a4a4a" text-anchor="middle">80</text>
<text x="434.80" y="120.00" font-size="4.7" fill="#4a4a4a" text-anchor="end">0.7</text>
<text x="434.80" y="92.87" font-size="4.7" fill="#4a4a4a" text-anchor="end">0.8</text>
<text x="434.80" y="65.73" font-size="4.7" fill="#4a4a4a" text-anchor="end">0.9</text>
<text x="434.80" y="38.60" font-size="4.7" fill="#4a4a4a" text-anchor="end">1</text>
<path d="M457.78,117.90v-1.1M457.78,36.50v1.1M486.29,117.90v-1.1M486.29,36.50v1.1M514.79,117.90v-1.1M514.79,36.50v1.1M543.30,117.90v-1.1M543.30,36.50v1.1M436.40,117.90h1.1M543.30,117.90h-1.1M436.40,90.77h1.1M543.30,90.77h-1.1M436.40,63.63h1.1M543.30,63.63h-1.1M436.40,36.50h1.1M543.30,36.50h-1.1" stroke="#c4c4c4" stroke-width="0.6" fill="none"/>
<text x="489.85" y="131.00" font-size="5.05" fill="#303030" text-anchor="middle">band number</text>
<text transform="translate(427.30,77.20) rotate(-90)" font-size="5" fill="#303030" text-anchor="middle">SSIM</text>
<text x="483.95" y="140.50" font-size="9.6" font-weight="bold" font-family="Liberation Serif, serif" fill="#111" text-anchor="middle">(d)</text>
<clipPath id="ce"><rect x="15.50" y="158.40" width="106.90" height="81.40"/></clipPath>
<g clip-path="url(#ce)" fill="none" stroke-width="1.05" stroke-linejoin="round" stroke-linecap="round">
<path stroke="#ffff1a" d="M15.7,225.5L15.7,239.8C16.2,239.8 18.0,239.8 18.5,239.8L18.5,225.0C19.1,224.9 21.1,224.8 22.0,224.5C22.9,224.2 23.4,223.1 24.0,223.0C24.6,222.9 24.7,224.1 25.5,224.0C26.3,223.9 27.3,222.6 28.7,222.3C30.1,222.0 32.1,222.4 34.0,222.3C35.9,222.2 38.3,222.0 40.0,222.0C41.7,222.0 42.9,222.2 44.0,222.3C45.1,222.4 45.1,222.4 46.6,222.4C48.1,222.5 51.0,222.5 53.1,222.7C55.3,222.8 57.5,222.9 59.7,223.1C61.8,223.3 64.0,223.7 66.2,223.7C68.3,223.8 70.5,223.7 72.7,223.3C74.9,222.9 77.0,221.7 79.2,221.1C81.4,220.5 83.6,220.0 85.7,219.6C87.9,219.2 90.1,219.0 92.3,219.0C94.4,218.9 96.6,219.4 98.8,219.4C101.0,219.4 103.1,219.1 105.3,219.0C107.5,218.8 110.0,218.5 111.8,218.5C113.6,218.5 114.4,218.7 116.2,219.0C117.9,219.2 121.2,219.9 122.3,220.0"/>
<path stroke="#1affff" d="M15.7,178.7C16.5,178.6 18.6,178.4 20.5,177.7C22.4,176.9 24.9,174.9 27.0,174.0C29.2,173.0 31.4,172.2 33.6,171.8C35.7,171.3 37.9,171.4 40.1,171.3C42.3,171.3 44.4,171.3 46.6,171.3C48.8,171.3 51.0,171.1 53.1,171.3C55.3,171.6 57.5,172.1 59.7,172.7C61.8,173.2 64.2,174.2 66.2,174.8C68.2,175.4 69.8,176.1 71.6,176.1C73.4,176.2 75.4,175.6 77.0,175.3C78.7,174.9 79.9,173.9 81.4,174.0C82.8,174.0 83.9,174.9 85.7,175.5C87.6,176.1 90.1,177.1 92.3,177.7C94.4,178.2 96.6,178.4 98.8,178.7C101.0,179.1 103.1,179.4 105.3,179.8C107.5,180.3 110.0,180.8 111.8,181.3C113.6,181.9 114.7,182.4 116.2,183.1C117.6,183.8 119.5,184.8 120.5,185.7C121.5,186.6 122.0,188.1 122.3,188.5"/>
<path stroke="#1aff1a" d="M15.7,177.9C16.5,177.6 18.6,177.1 20.5,176.1C22.4,175.2 24.9,173.2 27.0,172.2C29.2,171.3 31.4,170.8 33.6,170.5C35.7,170.2 37.9,170.5 40.1,170.5C42.3,170.5 44.4,170.5 46.6,170.5C48.8,170.5 51.0,170.3 53.1,170.5C55.3,170.7 57.5,171.2 59.7,171.8C61.8,172.4 64.2,173.3 66.2,174.0C68.2,174.6 69.8,175.4 71.6,175.5C73.4,175.6 75.4,174.8 77.0,174.4C78.7,174.0 79.9,173.3 81.4,173.3C82.8,173.3 83.9,173.8 85.7,174.4C87.6,174.9 90.1,176.0 92.3,176.6C94.4,177.1 96.6,177.3 98.8,177.7C101.0,178.0 103.1,178.3 105.3,178.7C107.5,179.2 110.0,179.9 111.8,180.5C113.6,181.0 114.7,181.2 116.2,182.0C117.6,182.8 119.5,184.4 120.5,185.3C121.5,186.2 122.0,187.1 122.3,187.4"/>
<path stroke="#b23cff" d="M15.7,178.7C16.5,178.6 18.6,178.3 20.5,177.9C22.4,177.4 24.9,176.6 27.0,176.1C29.2,175.6 31.4,175.1 33.6,174.8C35.7,174.5 37.9,174.4 40.1,174.4C42.3,174.4 44.4,174.6 46.6,174.8C48.8,175.0 51.0,175.3 53.1,175.5C55.3,175.7 57.5,175.9 59.7,176.1C61.8,176.4 64.0,176.7 66.2,177.0C68.3,177.3 70.5,177.5 72.7,177.7C74.9,177.8 77.8,177.8 79.2,177.7C80.7,177.5 80.3,176.7 81.4,177.0C82.5,177.3 83.9,178.4 85.7,179.2C87.6,179.9 90.1,180.8 92.3,181.3C94.4,181.9 96.6,182.3 98.8,182.7C101.0,183.0 103.1,183.3 105.3,183.5C107.5,183.8 110.0,184.0 111.8,184.2C113.6,184.4 114.7,184.3 116.2,184.8C117.6,185.4 119.5,186.7 120.5,187.4C121.5,188.2 122.0,188.9 122.3,189.2"/>
<path stroke="#ff40ff" d="M15.7,204.4C16.5,203.9 18.6,202.9 20.5,201.6C22.4,200.2 24.9,197.8 27.0,196.1C29.2,194.5 31.4,192.9 33.6,191.8C35.7,190.7 37.9,190.3 40.1,189.6C42.3,188.9 44.4,188.0 46.6,187.4C48.8,186.9 51.0,186.6 53.1,186.3C55.3,186.1 57.5,185.9 59.7,185.7C61.8,185.5 64.0,185.8 66.2,185.3C68.3,184.8 70.9,183.7 72.7,182.7C74.5,181.6 76.0,179.6 77.0,178.7C78.1,177.9 78.3,177.7 79.2,177.7C80.1,177.7 81.4,177.7 82.5,178.7C83.6,179.8 84.5,182.4 85.7,184.2C87.0,186.0 88.3,188.2 90.1,189.6C91.9,191.1 94.4,192.0 96.6,192.9C98.8,193.8 101.0,194.3 103.1,195.0C105.3,195.8 107.5,196.3 109.7,197.2C111.8,198.1 114.1,199.4 116.2,200.5C118.3,201.6 121.2,203.2 122.3,203.7"/>
<path stroke="#ff3c46" d="M15.7,187.4C16.5,187.2 18.6,186.6 20.5,185.9C22.4,185.3 24.9,184.2 27.0,183.5C29.2,182.9 32.2,182.0 33.6,182.0C35.0,182.0 34.9,183.3 35.5,183.3C36.1,183.3 35.2,182.0 37.0,181.8C38.9,181.6 43.9,181.9 46.6,182.0C49.3,182.1 51.0,182.4 53.1,182.7C55.3,182.9 57.5,183.3 59.7,183.5C61.8,183.8 64.0,184.3 66.2,184.2C68.3,184.0 70.5,183.2 72.7,182.7C74.9,182.1 77.6,181.1 79.2,180.9C80.8,180.7 81.4,181.0 82.5,181.3C83.6,181.7 84.1,182.6 85.7,183.1C87.4,183.6 90.1,183.8 92.3,184.2C94.4,184.5 96.6,185.0 98.8,185.3C101.0,185.5 103.1,185.3 105.3,185.7C107.5,186.1 110.0,187.0 111.8,187.4C113.6,187.9 114.7,188.0 116.2,188.5C117.6,189.1 119.5,190.1 120.5,190.7C121.5,191.3 122.0,192.0 122.3,192.2"/>
<path stroke="#3c46ff" d="M15.7,209.8C16.5,209.4 18.6,208.4 20.5,207.4C22.4,206.4 24.9,204.9 27.0,203.7C29.2,202.6 31.4,201.3 33.6,200.5C35.7,199.6 37.9,199.2 40.1,198.7C42.3,198.3 44.4,198.0 46.6,197.9C48.8,197.7 51.0,197.8 53.1,197.9C55.3,197.9 57.5,198.1 59.7,198.3C61.8,198.6 64.4,199.4 66.2,199.4C68.0,199.4 69.3,199.6 70.5,198.3C71.8,197.0 72.7,194.1 73.8,191.8C74.9,189.4 76.0,186.3 77.0,184.2C78.1,182.0 79.4,179.3 80.3,178.7C81.2,178.2 81.6,178.7 82.5,180.9C83.4,183.1 84.7,188.0 85.7,191.8C86.8,195.6 87.9,200.7 89.0,203.7C90.1,206.8 91.0,208.6 92.3,210.3C93.5,212.0 94.8,213.1 96.6,214.0C98.4,214.8 101.0,214.8 103.1,215.3C105.3,215.7 107.5,216.2 109.7,216.8C111.8,217.3 114.1,217.9 116.2,218.5C118.3,219.1 121.2,220.2 122.3,220.5"/>
<path stroke="#262626" d="M15.7,180.5C16.5,180.4 18.6,180.2 20.5,179.8C22.4,179.5 24.9,178.6 27.0,178.3C29.2,178.0 31.4,177.9 33.6,177.9C35.7,177.9 37.9,178.2 40.1,178.3C42.3,178.4 44.4,178.7 46.6,178.7C48.8,178.8 51.0,178.6 53.1,178.7C55.3,178.9 57.5,179.5 59.7,179.8C61.8,180.1 64.0,180.2 66.2,180.5C68.3,180.7 70.5,181.3 72.7,181.3C74.9,181.4 77.6,181.1 79.2,180.9C80.8,180.8 81.4,180.3 82.5,180.5C83.6,180.7 84.1,181.6 85.7,182.0C87.4,182.4 90.1,182.8 92.3,183.1C94.4,183.3 96.6,183.3 98.8,183.5C101.0,183.7 103.1,184.1 105.3,184.2C107.5,184.3 110.0,183.8 111.8,184.2C113.6,184.5 114.7,185.6 116.2,186.3C117.6,187.1 119.5,187.8 120.5,188.5C121.5,189.2 122.0,190.3 122.3,190.7"/>
<path stroke="#ff9030" d="M15.7,178.3C16.5,178.0 18.6,177.5 20.5,176.6C22.4,175.6 24.9,173.7 27.0,172.7C29.2,171.6 31.4,170.6 33.6,170.0C35.7,169.5 37.9,169.5 40.1,169.4C42.3,169.3 44.4,169.6 46.6,169.6C48.8,169.6 51.0,169.5 53.1,169.6C55.3,169.8 57.5,170.0 59.7,170.5C61.8,171.0 64.2,172.0 66.2,172.7C68.2,173.3 69.8,174.3 71.6,174.4C73.4,174.5 75.4,173.7 77.0,173.3C78.7,172.9 79.9,171.9 81.4,171.8C82.8,171.7 83.9,172.0 85.7,172.7C87.6,173.3 90.1,174.8 92.3,175.5C94.4,176.1 96.6,176.2 98.8,176.6C101.0,176.9 103.1,177.3 105.3,177.7C107.5,178.0 110.0,178.2 111.8,178.7C113.6,179.3 114.7,179.8 116.2,180.9C117.6,182.0 119.5,182.7 120.5,185.3C121.5,187.8 122.0,194.3 122.3,196.1"/>
</g>
<rect x="15.50" y="158.40" width="106.90" height="81.40" fill="none" stroke="#c4c4c4" stroke-width="0.7"/>
<text x="36.88" y="246.50" font-size="4.8" fill="#4a4a4a" text-anchor="middle">20</text>
<text x="65.39" y="246.50" font-size="4.8" fill="#4a4a4a" text-anchor="middle">40</text>
<text x="93.89" y="246.50" font-size="4.8" fill="#4a4a4a" text-anchor="middle">60</text>
<text x="122.40" y="246.50" font-size="4.8" fill="#4a4a4a" text-anchor="middle">80</text>
<text x="13.90" y="241.90" font-size="4.7" fill="#4a4a4a" text-anchor="end">20</text>
<text x="13.90" y="221.55" font-size="4.7" fill="#4a4a4a" text-anchor="end">25</text>
<text x="13.90" y="201.20" font-size="4.7" fill="#4a4a4a" text-anchor="end">30</text>
<text x="13.90" y="180.85" font-size="4.7" fill="#4a4a4a" text-anchor="end">35</text>
<text x="13.90" y="160.50" font-size="4.7" fill="#4a4a4a" text-anchor="end">40</text>
<path d="M36.88,239.80v-1.1M36.88,158.40v1.1M65.39,239.80v-1.1M65.39,158.40v1.1M93.89,239.80v-1.1M93.89,158.40v1.1M122.40,239.80v-1.1M122.40,158.40v1.1M15.50,239.80h1.1M122.40,239.80h-1.1M15.50,219.45h1.1M122.40,219.45h-1.1M15.50,199.10h1.1M122.40,199.10h-1.1M15.50,178.75h1.1M122.40,178.75h-1.1M15.50,158.40h1.1M122.40,158.40h-1.1" stroke="#c4c4c4" stroke-width="0.6" fill="none"/>
<text x="68.95" y="252.90" font-size="5.05" fill="#303030" text-anchor="middle">band number</text>
<text transform="translate(6.40,199.10) rotate(-90)" font-size="5" fill="#303030" text-anchor="middle">PSNR</text>
<text x="63.05" y="262.40" font-size="9.6" font-weight="bold" font-family="Liberation Serif, serif" fill="#111" text-anchor="middle">(e)</text>
<clipPath id="cf"><rect x="155.60" y="158.40" width="106.90" height="81.40"/></clipPath>
<g clip-path="url(#cf)" fill="none" stroke-width="1.05" stroke-linejoin="round" stroke-linecap="round">
<path stroke="#ffff1a" d="M155.6,229.1L155.6,239.8C156.1,239.8 157.9,239.8 158.3,239.8L158.3,227.7L159.7,226.8C160.0,226.3 161.0,225.0 161.6,223.9C162.2,222.8 162.7,221.2 163.5,220.1C164.3,219.0 165.5,218.1 166.3,217.3C167.1,216.5 167.4,215.6 168.2,215.4C169.0,215.2 170.2,216.6 171.0,216.4C171.8,216.2 171.8,214.9 172.9,214.5C174.0,214.1 176.4,214.2 177.7,214.0C179.0,213.8 179.7,212.9 180.5,213.0C181.3,213.1 181.8,214.3 182.4,214.5C183.0,214.7 183.7,214.1 184.0,214.0L184.4,214.6C185.2,214.6 187.3,214.5 188.8,214.6C190.2,214.7 191.7,215.0 193.1,215.3C194.6,215.5 196.0,215.7 197.5,216.1C198.9,216.6 200.4,217.3 201.8,217.9C203.3,218.4 204.9,219.2 206.2,219.6C207.4,220.0 208.3,220.3 209.4,220.0C210.5,219.8 211.6,219.3 212.7,218.3C213.8,217.3 214.9,215.7 216.0,214.0C217.0,212.3 218.1,210.2 219.2,208.1C220.3,206.0 221.4,202.7 222.5,201.6C223.6,200.4 224.5,201.1 225.7,201.1C227.0,201.2 228.6,201.9 230.1,202.0C231.5,202.1 233.0,201.6 234.4,201.6C235.9,201.5 237.3,201.4 238.8,201.6C240.2,201.7 241.7,202.6 243.1,202.7C244.6,202.7 246.0,202.1 247.5,202.0C248.9,201.9 250.4,202.1 251.8,202.2C253.3,202.3 254.7,202.5 256.2,202.7C257.6,202.8 259.5,202.7 260.5,203.1C261.5,203.4 262.0,204.5 262.3,204.8"/>
<path stroke="#1affff" d="M155.7,178.7C156.5,178.4 158.6,177.7 160.5,176.6C162.4,175.5 164.9,173.4 167.0,172.2C169.2,171.1 171.4,170.2 173.6,169.6C175.7,169.0 177.9,168.8 180.1,168.5C182.3,168.3 184.4,168.2 186.6,168.1C188.8,168.0 191.0,168.1 193.1,168.1C195.3,168.1 197.5,168.2 199.7,168.3C201.8,168.4 204.0,168.5 206.2,168.5C208.3,168.6 210.5,168.7 212.7,168.5C214.9,168.3 217.4,167.7 219.2,167.4C221.0,167.2 221.8,166.9 223.6,167.0C225.4,167.1 227.9,167.7 230.1,167.9C232.3,168.1 234.4,168.2 236.6,168.3C238.8,168.4 241.0,168.6 243.1,168.7C245.3,168.9 247.5,169.0 249.7,169.2C251.8,169.3 254.4,169.4 256.2,169.6C258.0,169.8 259.5,170.0 260.5,170.5C261.5,170.9 262.0,171.9 262.3,172.2"/>
<path stroke="#1aff1a" d="M155.7,177.9C156.5,177.5 158.6,176.8 160.5,175.7C162.4,174.6 164.9,172.5 167.0,171.3C169.2,170.2 171.4,169.5 173.6,169.0C175.7,168.4 177.9,168.1 180.1,167.9C182.3,167.6 184.4,167.5 186.6,167.4C188.8,167.4 191.0,167.4 193.1,167.4C195.3,167.5 197.5,167.6 199.7,167.7C201.8,167.7 204.0,167.8 206.2,167.9C208.3,167.9 210.5,168.1 212.7,167.9C214.9,167.7 217.4,167.0 219.2,166.8C221.0,166.5 221.8,166.3 223.6,166.3C225.4,166.3 227.9,166.6 230.1,166.8C232.3,166.9 234.4,167.1 236.6,167.2C238.8,167.3 241.0,167.3 243.1,167.4C245.3,167.5 247.5,167.7 249.7,167.9C251.8,168.1 254.4,168.2 256.2,168.5C258.0,168.8 259.5,169.2 260.5,169.6C261.5,170.0 262.0,170.9 262.3,171.1"/>
<path stroke="#b23cff" d="M155.7,182.7C156.5,182.4 158.6,182.0 160.5,180.9C162.4,179.8 164.9,177.5 167.0,176.1C169.2,174.8 171.4,173.6 173.6,172.7C175.7,171.7 177.9,171.1 180.1,170.7C182.3,170.3 184.4,170.2 186.6,170.0C188.8,169.9 191.0,170.0 193.1,170.0C195.3,170.1 197.5,170.2 199.7,170.3C201.8,170.3 204.0,170.4 206.2,170.5C208.3,170.5 210.5,170.7 212.7,170.5C214.9,170.2 217.6,169.3 219.2,169.0C220.8,168.6 221.4,168.3 222.5,168.3C223.6,168.3 224.1,168.7 225.7,169.0C227.4,169.2 230.1,169.8 232.3,170.0C234.4,170.3 236.6,170.4 238.8,170.5C241.0,170.6 243.1,170.6 245.3,170.7C247.5,170.8 250.0,170.9 251.8,171.1C253.6,171.3 254.7,171.4 256.2,171.8C257.6,172.1 259.5,172.8 260.5,173.3C261.5,173.8 262.0,174.6 262.3,174.8"/>
<path stroke="#ff40ff" d="M155.7,207.4C156.5,206.6 158.6,204.5 160.5,202.2C162.4,199.9 164.9,196.0 167.0,193.5C169.2,191.1 171.4,189.3 173.6,187.4C175.7,185.6 177.9,183.9 180.1,182.4C182.3,181.0 184.4,179.7 186.6,178.7C188.8,177.8 191.0,177.1 193.1,176.6C195.3,176.0 197.5,175.9 199.7,175.5C201.8,175.0 204.0,174.5 206.2,174.0C208.3,173.4 210.9,172.9 212.7,172.2C214.5,171.6 215.8,170.8 217.0,170.0C218.3,169.3 219.2,168.1 220.3,167.9C221.4,167.7 222.3,168.3 223.6,169.0C224.8,169.6 226.1,170.7 227.9,171.8C229.7,172.9 232.3,174.6 234.4,175.5C236.6,176.3 238.8,176.5 241.0,177.0C243.1,177.5 245.3,178.2 247.5,178.7C249.7,179.3 252.2,179.9 254.0,180.5C255.8,181.0 257.0,181.5 258.3,182.0C259.7,182.5 261.6,183.3 262.3,183.5"/>
<path stroke="#ff3c46" d="M155.7,190.7C156.5,190.2 158.6,188.9 160.5,187.4C162.4,186.0 164.9,183.4 167.0,182.0C169.2,180.6 172.1,179.4 173.6,178.7C175.0,178.1 175.4,178.0 175.7,177.9L176.8,179.4C177.4,179.0 178.5,177.7 180.1,177.0C181.7,176.3 184.4,175.9 186.6,175.5C188.8,175.0 191.0,174.6 193.1,174.4C195.3,174.1 197.5,174.0 199.7,174.0C201.8,173.9 204.0,174.2 206.2,174.0C208.3,173.7 210.5,173.2 212.7,172.7C214.9,172.1 217.6,171.0 219.2,170.5C220.8,170.0 221.4,169.5 222.5,169.6C223.6,169.7 224.1,170.7 225.7,171.1C227.4,171.6 230.1,171.9 232.3,172.2C234.4,172.5 236.6,172.9 238.8,173.1C241.0,173.3 243.1,173.4 245.3,173.5C247.5,173.7 250.0,173.8 251.8,174.0C253.6,174.1 254.7,174.2 256.2,174.4C257.6,174.5 259.5,174.6 260.5,174.8C261.5,175.0 262.0,175.4 262.3,175.5"/>
<path stroke="#3c46ff" d="M155.7,213.1C156.5,212.3 158.6,210.4 160.5,208.1C162.4,205.8 164.9,202.1 167.0,199.2C169.2,196.3 171.4,192.8 173.6,190.7C175.7,188.6 177.9,187.4 180.1,186.3C182.3,185.3 184.4,184.8 186.6,184.2C188.8,183.6 191.0,183.1 193.1,182.7C195.3,182.2 197.5,181.9 199.7,181.6C201.8,181.3 204.4,181.2 206.2,180.9C208.0,180.6 209.1,180.6 210.5,179.8C212.0,179.0 213.4,177.6 214.9,176.1C216.3,174.7 218.1,172.3 219.2,171.1C220.4,169.9 220.9,168.8 221.8,169.0C222.7,169.1 223.6,170.7 224.7,171.8C225.7,172.9 226.6,174.3 227.9,175.5C229.2,176.6 230.4,177.7 232.3,178.7C234.1,179.8 236.6,181.0 238.8,182.0C241.0,183.0 243.1,183.8 245.3,184.6C247.5,185.4 249.7,185.9 251.8,186.8C254.0,187.6 256.6,188.8 258.3,189.6C260.1,190.4 261.6,191.4 262.3,191.8"/>
<path stroke="#262626" d="M155.7,182.7C156.5,182.4 158.6,181.7 160.5,180.9C162.4,180.1 164.9,178.6 167.0,177.7C169.2,176.7 171.4,175.7 173.6,175.0C175.7,174.4 177.9,173.9 180.1,173.5C182.3,173.1 184.4,172.8 186.6,172.7C188.8,172.5 191.0,172.6 193.1,172.7C195.3,172.7 197.5,172.8 199.7,172.9C201.8,172.9 204.0,173.0 206.2,172.9C208.3,172.8 210.5,172.6 212.7,172.2C214.9,171.8 217.6,170.9 219.2,170.5C220.8,170.0 221.4,169.5 222.5,169.6C223.6,169.7 224.1,170.6 225.7,171.1C227.4,171.6 230.1,172.5 232.3,172.7C234.4,172.8 236.6,172.4 238.8,172.2C241.0,172.1 243.1,171.8 245.3,171.8C247.5,171.8 250.0,172.0 251.8,172.2C253.6,172.5 254.7,172.8 256.2,173.3C257.6,173.8 259.5,174.4 260.5,175.5C261.5,176.6 262.0,179.1 262.3,179.8"/>
<path stroke="#ff9030" d="M155.7,178.7C156.5,178.3 158.6,177.4 160.5,176.1C162.4,174.9 164.9,172.4 167.0,171.1C169.2,169.8 171.4,169.0 173.6,168.3C175.7,167.6 177.9,167.3 180.1,167.0C182.3,166.7 184.4,166.6 186.6,166.6C188.8,166.5 191.0,166.5 193.1,166.6C195.3,166.6 197.5,166.7 199.7,166.8C201.8,166.9 204.0,167.0 206.2,167.0C208.3,167.0 210.5,167.1 212.7,167.0C214.9,166.9 217.4,166.3 219.2,166.1C221.0,165.9 221.8,165.7 223.6,165.7C225.4,165.7 227.9,166.0 230.1,166.1C232.3,166.3 234.4,166.5 236.6,166.6C238.8,166.7 241.0,166.7 243.1,166.8C245.3,166.9 247.5,166.8 249.7,167.0C251.8,167.2 254.4,167.5 256.2,167.9C258.0,168.2 259.5,168.5 260.5,169.0C261.5,169.4 262.0,170.2 262.3,170.5"/>
</g>
<rect x="155.60" y="158.40" width="106.90" height="81.40" fill="none" stroke="#c4c4c4" stroke-width="0.7"/>
<text x="176.98" y="246.50" font-size="4.8" fill="#4a4a4a" text-anchor="middle">20</text>
<text x="205.49" y="246.50" font-size="4.8" fill="#4a4a4a" text-anchor="middle">40</text>
<text x="233.99" y="246.50" font-size="4.8" fill="#4a4a4a" text-anchor="middle">60</text>
<text x="262.50" y="246.50" font-size="4.8" fill="#4a4a4a" text-anchor="middle">80</text>
<text x="154.00" y="241.90" font-size="4.7" fill="#4a4a4a" text-anchor="end">0.7</text>
<text x="154.00" y="214.77" font-size="4.7" fill="#4a4a4a" text-anchor="end">0.8</text>
<text x="154.00" y="187.63" font-size="4.7" fill="#4a4a4a" text-anchor="end">0.9</text>
<text x="154.00" y="160.50" font-size="4.7" fill="#4a4a4a" text-anchor="end">1</text>
<path d="M176.98,239.80v-1.1M176.98,158.40v1.1M205.49,239.80v-1.1M205.49,158.40v1.1M233.99,239.80v-1.1M233.99,158.40v1.1M262.50,239.80v-1.1M262.50,158.40v1.1M155.60,239.80h1.1M262.50,239.80h-1.1M155.60,212.67h1.1M262.50,212.67h-1.1M155.60,185.53h1.1M262.50,185.53h-1.1M155.60,158.40h1.1M262.50,158.40h-1.1" stroke="#c4c4c4" stroke-width="0.6" fill="none"/>
<text x="209.05" y="252.90" font-size="5.05" fill="#303030" text-anchor="middle">band number</text>
<text transform="translate(146.50,199.10) rotate(-90)" font-size="5" fill="#303030" text-anchor="middle">SSIM</text>
<text x="203.15" y="262.40" font-size="9.6" font-weight="bold" font-family="Liberation Serif, serif" fill="#111" text-anchor="middle">(f)</text>
<clipPath id="cg"><rect x="296.30" y="158.40" width="106.90" height="81.40"/></clipPath>
<g clip-path="url(#cg)" fill="none" stroke-width="1.05" stroke-linejoin="round" stroke-linecap="round">
<path stroke="#ffff1a" d="M297.0,239.8L297.0,225.2C297.5,225.1 298.9,225.0 299.9,224.8C300.9,224.7 302.2,224.7 303.2,224.3C304.2,224.0 304.6,222.9 305.7,222.7C306.8,222.5 308.3,223.2 309.8,223.1C311.3,223.0 313.1,222.5 314.7,222.3C316.3,222.1 318.4,222.0 319.6,221.9C320.8,221.8 320.9,221.4 322.0,221.5C323.1,221.6 324.7,222.4 326.1,222.7C327.5,223.0 328.7,223.2 330.2,223.1C331.7,223.0 333.6,222.2 335.0,222.3C336.4,222.4 337.2,223.3 338.5,223.5C339.8,223.8 341.4,223.7 342.8,223.7C344.3,223.8 345.7,224.0 347.2,224.0C348.6,223.9 349.7,224.0 351.5,223.3C353.3,222.7 355.9,220.8 358.0,220.0C360.2,219.3 362.4,219.2 364.6,219.0C366.7,218.7 368.9,218.4 371.1,218.5C373.3,218.6 375.4,219.3 377.6,219.4C379.8,219.5 382.3,219.2 384.1,219.0C385.9,218.7 387.4,218.2 388.5,217.9C389.6,217.5 389.6,217.1 390.7,216.8C391.7,216.5 393.6,216.1 395.0,216.1C396.4,216.1 398.0,216.5 399.3,216.8C400.7,217.1 402.6,217.7 403.3,217.9"/>
<path stroke="#1affff" d="M296.3,179.6C297.2,179.3 299.6,178.7 301.5,177.9C303.5,177.0 305.9,175.4 308.0,174.4C310.2,173.4 312.4,172.3 314.6,171.8C316.7,171.2 318.9,171.2 321.1,171.1C323.3,171.0 325.4,171.1 327.6,171.1C329.8,171.2 332.0,171.1 334.1,171.3C336.3,171.6 338.5,172.1 340.7,172.7C342.8,173.2 345.2,174.2 347.2,174.8C349.2,175.4 350.8,176.1 352.6,176.1C354.4,176.2 356.4,175.7 358.0,175.3C359.7,174.9 360.9,173.8 362.4,173.7C363.8,173.7 364.9,174.3 366.7,174.8C368.6,175.4 371.1,176.4 373.3,177.0C375.4,177.6 377.6,177.9 379.8,178.3C382.0,178.7 384.1,179.0 386.3,179.4C388.5,179.8 391.0,180.3 392.8,180.9C394.6,181.5 395.7,182.3 397.2,183.1C398.6,183.9 400.5,185.0 401.5,185.7C402.5,186.4 403.0,187.1 403.3,187.4"/>
<path stroke="#1aff1a" d="M296.3,178.7C297.2,178.4 299.6,177.9 301.5,177.0C303.5,176.1 305.9,174.3 308.0,173.3C310.2,172.3 312.4,171.6 314.6,171.1C316.7,170.7 318.9,170.6 321.1,170.5C323.3,170.4 325.4,170.4 327.6,170.5C329.8,170.5 332.0,170.5 334.1,170.7C336.3,170.9 338.5,171.2 340.7,171.8C342.8,172.3 345.2,173.3 347.2,174.0C349.2,174.6 350.8,175.4 352.6,175.5C354.4,175.6 356.4,174.8 358.0,174.4C359.7,174.0 360.9,172.9 362.4,172.9C363.8,172.8 364.9,173.4 366.7,174.0C368.6,174.5 371.1,175.6 373.3,176.1C375.4,176.7 377.6,177.0 379.8,177.4C382.0,177.9 384.1,178.2 386.3,178.7C388.5,179.2 391.0,179.8 392.8,180.5C394.6,181.1 395.7,181.7 397.2,182.7C398.6,183.6 400.5,185.4 401.5,186.3C402.5,187.3 403.0,188.2 403.3,188.5"/>
<path stroke="#b23cff" d="M296.3,179.8C297.2,179.6 299.6,179.3 301.5,178.7C303.5,178.2 305.9,177.2 308.0,176.6C310.2,175.9 312.4,175.4 314.6,175.0C316.7,174.7 318.9,174.4 321.1,174.4C323.3,174.4 325.4,174.6 327.6,174.8C329.8,175.0 332.0,175.3 334.1,175.5C336.3,175.7 338.5,175.9 340.7,176.1C342.8,176.4 345.0,176.6 347.2,177.0C349.3,177.4 351.5,178.3 353.7,178.3C355.9,178.3 358.8,177.4 360.2,177.0C361.7,176.6 361.3,175.8 362.4,176.1C363.5,176.4 364.9,177.9 366.7,178.7C368.6,179.5 371.1,180.4 373.3,180.9C375.4,181.5 377.6,181.6 379.8,182.0C382.0,182.4 384.1,182.7 386.3,183.1C388.5,183.4 391.2,183.6 392.8,184.2C394.5,184.7 395.5,186.0 396.1,186.3L397.2,200.5L398.3,226.6L398.9,200.5L399.8,191.8C400.1,191.8 400.9,191.7 401.5,191.8C402.1,191.9 403.0,192.1 403.3,192.2"/>
<path stroke="#ff40ff" d="M296.3,204.4C297.2,203.9 299.6,202.9 301.5,201.6C303.5,200.3 305.9,198.1 308.0,196.6C310.2,195.0 312.4,193.4 314.6,192.2C316.7,191.1 318.9,190.3 321.1,189.6C323.3,188.9 325.4,188.4 327.6,187.9C329.8,187.4 332.0,186.9 334.1,186.6C336.3,186.2 338.5,185.9 340.7,185.7C342.8,185.5 345.0,185.8 347.2,185.3C349.3,184.8 351.9,183.7 353.7,182.7C355.5,181.6 357.0,179.6 358.0,178.7C359.1,177.8 359.3,177.3 360.2,177.2C361.1,177.1 362.4,177.3 363.5,178.3C364.6,179.3 365.5,181.6 366.7,183.1C368.0,184.6 369.3,186.0 371.1,187.4C372.9,188.9 375.4,190.5 377.6,191.8C379.8,193.1 382.0,194.1 384.1,195.0C386.3,195.9 388.5,196.3 390.7,197.2C392.8,198.1 395.1,199.3 397.2,200.5C399.3,201.7 402.2,203.7 403.3,204.4"/>
<path stroke="#ff3c46" d="M296.3,187.4C297.2,187.3 299.6,187.0 301.5,186.3C303.5,185.7 305.9,184.2 308.0,183.5C310.2,182.8 313.1,182.4 314.6,182.0C316.0,181.6 315.7,181.4 316.7,181.3C317.8,181.3 319.3,181.5 321.1,181.6C322.9,181.7 325.4,181.8 327.6,182.0C329.8,182.2 332.0,182.5 334.1,182.7C336.3,182.8 338.5,182.9 340.7,183.1C342.8,183.2 345.0,183.4 347.2,183.5C349.3,183.6 351.9,183.7 353.7,183.5C355.5,183.4 356.8,183.0 358.0,182.7C359.3,182.3 360.2,181.3 361.3,181.3C362.4,181.3 362.9,182.2 364.6,182.7C366.2,183.1 368.9,183.8 371.1,184.2C373.3,184.5 375.4,184.6 377.6,184.8C379.8,185.1 382.0,185.3 384.1,185.7C386.3,186.1 389.0,186.8 390.7,187.4C392.3,188.1 393.1,188.3 393.9,189.6C394.7,190.9 395.2,194.1 395.4,195.0L396.7,190.7C397.2,190.5 398.6,189.5 399.3,189.6C400.1,189.7 400.9,190.8 401.5,191.3C402.2,191.9 403.0,192.6 403.3,192.9"/>
<path stroke="#3c46ff" d="M296.3,209.8C297.2,209.4 299.6,208.4 301.5,207.4C303.5,206.4 305.9,204.9 308.0,203.7C310.2,202.6 312.4,201.3 314.6,200.5C316.7,199.6 318.9,199.2 321.1,198.7C323.3,198.3 325.4,198.1 327.6,197.9C329.8,197.7 332.0,197.4 334.1,197.4C336.3,197.5 338.5,198.0 340.7,198.3C342.8,198.6 345.4,199.4 347.2,199.4C349.0,199.4 350.3,199.6 351.5,198.3C352.8,197.0 353.7,194.1 354.8,191.8C355.9,189.4 357.0,186.3 358.0,184.2C359.1,182.1 360.0,179.6 360.9,179.2C361.8,178.7 362.5,179.1 363.5,181.3C364.5,183.6 365.7,189.1 366.7,192.9C367.8,196.6 368.9,200.8 370.0,203.7C371.1,206.6 372.0,208.6 373.3,210.3C374.5,212.0 375.8,213.1 377.6,214.0C379.4,214.8 382.0,214.8 384.1,215.3C386.3,215.7 388.5,216.2 390.7,216.8C392.8,217.4 395.1,218.2 397.2,219.0C399.3,219.7 402.2,220.8 403.3,221.1"/>
<path stroke="#262626" d="M296.6,228.7C297.0,228.5 298.0,227.8 299.1,227.6C300.2,227.3 302.1,227.8 303.2,227.2C304.3,226.6 304.6,224.8 305.7,224.3C306.8,223.8 308.3,224.6 309.8,224.3C311.3,224.0 313.1,223.1 314.7,222.7C316.3,222.3 318.4,222.1 319.6,221.9C320.8,221.7 320.9,221.2 322.0,221.3C323.1,221.4 324.7,222.1 326.1,222.3C327.5,222.5 328.7,222.4 330.2,222.3C331.7,222.2 333.6,221.4 335.0,221.5C336.4,221.6 337.2,222.5 338.5,222.7C339.8,222.8 341.4,222.7 342.8,222.7C344.3,222.6 345.7,222.5 347.2,222.2C348.6,222.0 349.7,221.7 351.5,221.1C353.3,220.6 355.9,219.4 358.0,219.0C360.2,218.5 362.4,218.4 364.6,218.3C366.7,218.2 368.9,218.3 371.1,218.5C373.3,218.7 375.4,219.3 377.6,219.4C379.8,219.5 382.3,219.2 384.1,219.0C385.9,218.7 387.4,218.3 388.5,217.9C389.6,217.4 389.6,216.4 390.7,216.1C391.7,215.8 393.6,216.1 395.0,216.1C396.4,216.1 398.0,215.8 399.3,216.1C400.7,216.4 402.6,217.6 403.3,217.9"/>
<path stroke="#ff9030" d="M296.3,178.3C297.2,178.0 299.6,177.5 301.5,176.6C303.5,175.6 305.9,173.7 308.0,172.7C310.2,171.6 312.4,171.0 314.6,170.5C316.7,170.0 318.9,169.8 321.1,169.6C323.3,169.5 325.4,169.6 327.6,169.6C329.8,169.6 332.0,169.5 334.1,169.6C336.3,169.8 338.5,170.0 340.7,170.5C342.8,171.0 345.2,172.0 347.2,172.7C349.2,173.3 350.8,174.3 352.6,174.4C354.4,174.5 356.4,173.7 358.0,173.3C359.7,172.9 360.9,171.9 362.4,171.8C363.8,171.7 364.9,172.0 366.7,172.7C368.6,173.3 371.1,174.8 373.3,175.5C375.4,176.1 377.6,176.2 379.8,176.6C382.0,176.9 384.1,177.2 386.3,177.7C388.5,178.1 391.0,178.4 392.8,179.2C394.6,179.9 395.7,180.8 397.2,182.0C398.6,183.2 400.5,184.0 401.5,186.3C402.5,188.7 403.0,194.5 403.3,196.1"/>
</g>
<rect x="296.30" y="158.40" width="106.90" height="81.40" fill="none" stroke="#c4c4c4" stroke-width="0.7"/>
<text x="317.68" y="246.50" font-size="4.8" fill="#4a4a4a" text-anchor="middle">20</text>
<text x="346.19" y="246.50" font-size="4.8" fill="#4a4a4a" text-anchor="middle">40</text>
<text x="374.69" y="246.50" font-size="4.8" fill="#4a4a4a" text-anchor="middle">60</text>
<text x="403.20" y="246.50" font-size="4.8" fill="#4a4a4a" text-anchor="middle">80</text>
<text x="294.70" y="241.90" font-size="4.7" fill="#4a4a4a" text-anchor="end">20</text>
<text x="294.70" y="221.55" font-size="4.7" fill="#4a4a4a" text-anchor="end">25</text>
<text x="294.70" y="201.20" font-size="4.7" fill="#4a4a4a" text-anchor="end">30</text>
<text x="294.70" y="180.85" font-size="4.7" fill="#4a4a4a" text-anchor="end">35</text>
<text x="294.70" y="160.50" font-size="4.7" fill="#4a4a4a" text-anchor="end">40</text>
<path d="M317.68,239.80v-1.1M317.68,158.40v1.1M346.19,239.80v-1.1M346.19,158.40v1.1M374.69,239.80v-1.1M374.69,158.40v1.1M403.20,239.80v-1.1M403.20,158.40v1.1M296.30,239.80h1.1M403.20,239.80h-1.1M296.30,219.45h1.1M403.20,219.45h-1.1M296.30,199.10h1.1M403.20,199.10h-1.1M296.30,178.75h1.1M403.20,178.75h-1.1M296.30,158.40h1.1M403.20,158.40h-1.1" stroke="#c4c4c4" stroke-width="0.6" fill="none"/>
<text x="349.75" y="252.90" font-size="5.05" fill="#303030" text-anchor="middle">band number</text>
<text transform="translate(287.20,199.10) rotate(-90)" font-size="5" fill="#303030" text-anchor="middle">PSNR</text>
<text x="343.85" y="262.40" font-size="9.6" font-weight="bold" font-family="Liberation Serif, serif" fill="#111" text-anchor="middle">(g)</text>
<clipPath id="ch"><rect x="436.40" y="158.40" width="106.90" height="81.40"/></clipPath>
<g clip-path="url(#ch)" fill="none" stroke-width="1.05" stroke-linejoin="round" stroke-linecap="round">
<path stroke="#ffff1a" d="M437.4,239.8L437.4,229.6C437.8,229.2 438.8,228.0 439.7,227.2C440.6,226.4 441.8,225.8 442.6,224.9C443.4,224.0 443.9,222.6 444.5,221.5C445.1,220.4 445.5,219.0 446.3,218.2C447.1,217.4 448.2,217.3 449.2,216.8C450.1,216.3 451.1,215.9 452.0,215.4C452.9,214.9 453.9,213.8 454.9,213.7C455.8,213.5 456.8,214.4 457.7,214.5C458.6,214.6 459.6,214.2 460.5,214.0C461.4,213.8 462.4,213.4 463.4,213.5C464.3,213.6 465.1,214.1 466.2,214.5C467.3,214.9 468.9,215.5 470.0,215.9C471.1,216.3 472.0,216.8 472.8,216.8C473.6,216.8 474.1,215.8 475.0,215.9C475.9,216.0 477.2,216.9 478.5,217.4C479.8,217.9 481.4,218.5 482.8,219.0C484.3,219.4 485.9,219.9 487.2,220.0C488.4,220.2 489.3,220.4 490.4,220.0C491.5,219.7 492.6,219.3 493.7,217.9C494.8,216.4 495.9,213.7 497.0,211.3C498.0,209.0 499.1,205.6 500.2,203.7C501.3,201.9 502.4,201.1 503.5,200.5C504.6,199.9 505.5,200.0 506.7,200.0C508.0,200.0 509.6,200.2 511.1,200.5C512.5,200.7 514.0,201.3 515.4,201.6C516.9,201.9 518.3,202.0 519.8,202.2C521.2,202.4 522.7,202.7 524.1,202.7C525.6,202.7 527.0,202.3 528.5,202.2C529.9,202.1 531.4,202.1 532.8,202.2C534.3,202.4 535.7,202.8 537.2,203.1C538.6,203.3 540.5,203.4 541.5,203.7C542.5,204.0 543.0,204.6 543.3,204.8"/>
<path stroke="#1affff" d="M436.3,178.7C437.2,178.4 439.6,177.7 441.5,176.6C443.5,175.5 445.9,173.4 448.0,172.2C450.2,171.1 452.4,170.2 454.6,169.6C456.7,169.0 458.9,168.8 461.1,168.5C463.3,168.3 465.4,168.2 467.6,168.1C469.8,168.0 472.0,168.1 474.1,168.1C476.3,168.1 478.5,168.2 480.7,168.3C482.8,168.4 485.0,168.5 487.2,168.5C489.3,168.6 491.5,168.7 493.7,168.5C495.9,168.3 498.4,167.7 500.2,167.4C502.0,167.2 502.8,166.9 504.6,167.0C506.4,167.1 508.9,167.7 511.1,167.9C513.3,168.1 515.4,168.2 517.6,168.3C519.8,168.4 522.0,168.6 524.1,168.7C526.3,168.9 528.5,169.0 530.7,169.2C532.8,169.3 535.4,169.4 537.2,169.6C539.0,169.8 540.5,170.0 541.5,170.5C542.5,170.9 543.0,171.9 543.3,172.2"/>
<path stroke="#1aff1a" d="M436.3,177.9C437.2,177.5 439.6,176.8 441.5,175.7C443.5,174.6 445.9,172.5 448.0,171.3C450.2,170.2 452.4,169.5 454.6,169.0C456.7,168.4 458.9,168.1 461.1,167.9C463.3,167.6 465.4,167.5 467.6,167.4C469.8,167.4 472.0,167.4 474.1,167.4C476.3,167.5 478.5,167.6 480.7,167.7C482.8,167.7 485.0,167.8 487.2,167.9C489.3,167.9 491.5,168.1 493.7,167.9C495.9,167.7 498.4,167.0 500.2,166.8C502.0,166.5 502.8,166.3 504.6,166.3C506.4,166.3 508.9,166.6 511.1,166.8C513.3,166.9 515.4,167.1 517.6,167.2C519.8,167.3 522.0,167.3 524.1,167.4C526.3,167.5 528.5,167.7 530.7,167.9C532.8,168.1 535.4,168.2 537.2,168.5C539.0,168.8 540.5,169.2 541.5,169.6C542.5,170.0 543.0,170.9 543.3,171.1"/>
<path stroke="#b23cff" d="M436.3,183.1C437.2,182.8 439.6,182.4 441.5,181.3C443.5,180.3 445.9,177.9 448.0,176.6C450.2,175.2 452.4,174.0 454.6,173.1C456.7,172.1 458.9,171.4 461.1,170.9C463.3,170.4 465.4,170.2 467.6,170.0C469.8,169.9 472.0,170.0 474.1,170.0C476.3,170.0 478.5,170.0 480.7,170.0C482.8,170.1 485.0,170.3 487.2,170.3C489.3,170.3 491.5,170.3 493.7,170.0C495.9,169.8 498.6,169.1 500.2,168.7C501.8,168.4 502.4,167.9 503.5,167.9C504.6,167.9 505.1,168.4 506.7,168.7C508.4,169.0 511.1,169.4 513.3,169.6C515.4,169.8 517.6,169.9 519.8,170.0C522.0,170.2 524.1,170.3 526.3,170.5C528.5,170.6 531.2,170.7 532.8,170.9C534.5,171.1 535.5,171.6 536.1,171.8L537.0,200.5L537.8,232.0L538.7,200.5L539.6,174.4C539.9,174.2 540.9,173.3 541.5,173.3C542.1,173.3 543.0,174.2 543.3,174.4"/>
<path stroke="#ff40ff" d="M436.3,207.4C437.2,206.6 439.8,204.4 442.0,202.2C444.1,200.0 446.8,197.1 449.1,194.4C451.5,191.7 453.8,188.4 456.1,185.9C458.4,183.4 460.7,181.2 463.0,179.6C465.4,178.0 467.9,177.1 470.2,176.1C472.6,175.2 474.3,174.5 477.2,174.0C480.0,173.4 484.4,173.4 487.2,173.1C489.9,172.7 491.9,172.3 493.7,171.8C495.5,171.3 496.8,170.6 498.0,170.0C499.3,169.5 500.2,168.5 501.3,168.3C502.4,168.1 503.3,168.4 504.6,169.0C505.8,169.5 507.1,170.7 508.9,171.8C510.7,172.9 513.3,174.6 515.4,175.5C517.6,176.3 519.8,176.5 522.0,177.0C524.1,177.5 526.3,178.2 528.5,178.7C530.7,179.3 533.2,179.9 535.0,180.5C536.8,181.0 538.0,181.5 539.3,182.0C540.7,182.5 542.6,183.3 543.3,183.5"/>
<path stroke="#ff3c46" d="M436.3,191.3C437.2,190.8 439.6,189.3 441.5,187.9C443.5,186.4 445.9,184.2 448.0,182.7C450.2,181.1 453.1,179.5 454.6,178.7C456.0,177.9 455.7,178.2 456.7,177.9C457.8,177.5 459.3,177.0 461.1,176.6C462.9,176.2 465.4,175.8 467.6,175.5C469.8,175.1 472.0,174.6 474.1,174.4C476.3,174.1 478.5,174.1 480.7,174.0C482.8,173.8 485.0,173.7 487.2,173.5C489.3,173.3 491.5,173.2 493.7,172.7C495.9,172.1 498.6,171.0 500.2,170.5C501.8,170.0 502.4,169.5 503.5,169.6C504.6,169.7 505.1,170.7 506.7,171.1C508.4,171.6 511.1,172.0 513.3,172.2C515.4,172.5 517.6,172.5 519.8,172.7C522.0,172.8 524.1,172.9 526.3,173.1C528.5,173.3 531.4,173.6 532.8,174.0C534.3,174.4 534.6,175.2 535.0,175.5L536.1,177.0L537.2,175.5C537.5,175.6 538.3,175.9 539.3,176.1C540.4,176.3 542.6,176.5 543.3,176.6"/>
<path stroke="#3c46ff" d="M436.3,214.0C437.2,212.9 439.8,209.9 442.0,207.7C444.1,205.4 446.8,203.2 449.1,200.7C451.5,198.2 453.8,194.9 456.1,192.4C458.4,190.0 460.7,187.5 463.0,185.9C465.4,184.4 467.9,183.9 470.2,183.1C472.6,182.3 474.9,181.5 477.2,180.9C479.5,180.3 482.1,180.0 484.1,179.6C486.2,179.2 488.0,179.0 489.3,178.7C490.7,178.5 490.9,178.8 492.0,178.1C493.0,177.4 494.5,175.7 495.9,174.4C497.2,173.1 499.1,171.3 500.2,170.5C501.4,169.7 501.9,169.3 502.8,169.6C503.7,169.9 504.6,171.1 505.7,172.2C506.7,173.3 507.6,174.9 508.9,176.1C510.2,177.4 511.4,178.7 513.3,179.8C515.1,181.0 517.6,182.1 519.8,183.1C522.0,184.1 524.1,184.9 526.3,185.7C528.5,186.5 530.7,187.0 532.8,187.9C535.0,188.7 537.6,189.9 539.3,190.7C541.1,191.5 542.6,192.5 543.3,192.9"/>
<path stroke="#262626" d="M444.9,240.0L445.9,234.3C446.3,234.0 447.6,232.9 448.2,232.4C448.8,231.9 449.4,231.7 449.7,231.5L450.6,232.0L451.5,227.7L452.5,220.1L453.9,216.3C454.2,216.1 455.0,215.2 455.8,214.9C456.6,214.6 457.7,214.8 458.6,214.5C459.6,214.2 460.7,213.4 461.5,213.0C462.3,212.6 462.6,212.2 463.4,212.1C464.2,212.0 465.3,212.4 466.2,212.6C467.1,212.8 468.1,212.8 469.0,213.0C469.9,213.2 470.9,213.9 471.9,214.0C472.9,214.1 473.9,213.1 475.0,213.3C476.1,213.5 477.5,214.9 478.5,215.3C479.4,215.7 479.6,215.1 480.7,215.7C481.7,216.3 483.7,218.5 485.0,219.0C486.3,219.4 487.2,218.6 488.3,218.3C489.3,218.1 490.4,218.2 491.5,217.4C492.6,216.6 493.7,215.8 494.8,213.5C495.9,211.2 497.0,206.1 498.0,203.7C499.1,201.4 500.2,200.5 501.3,199.4C502.4,198.3 503.3,197.4 504.6,197.2C505.8,197.0 507.5,197.8 508.9,198.3C510.4,198.8 511.8,199.8 513.3,200.5C514.7,201.1 516.2,202.0 517.6,202.2C519.1,202.4 520.5,201.8 522.0,201.8C523.4,201.8 524.9,202.2 526.3,202.2C527.8,202.3 529.2,201.9 530.7,202.0C532.1,202.1 533.9,202.4 535.0,202.7C536.1,202.9 536.1,203.6 537.2,203.7C538.3,203.9 540.5,203.2 541.5,203.7C542.5,204.3 543.0,206.5 543.3,207.0"/>
<path stroke="#ff9030" d="M436.3,178.7C437.2,178.3 439.6,177.4 441.5,176.1C443.5,174.9 445.9,172.4 448.0,171.1C450.2,169.8 452.4,169.0 454.6,168.3C456.7,167.6 458.9,167.3 461.1,167.0C463.3,166.7 465.4,166.6 467.6,166.6C469.8,166.5 472.0,166.5 474.1,166.6C476.3,166.6 478.5,166.7 480.7,166.8C482.8,166.9 485.0,167.0 487.2,167.0C489.3,167.0 491.5,167.1 493.7,167.0C495.9,166.9 498.4,166.3 500.2,166.1C502.0,165.9 502.8,165.7 504.6,165.7C506.4,165.7 508.9,166.0 511.1,166.1C513.3,166.3 515.4,166.5 517.6,166.6C519.8,166.7 522.0,166.7 524.1,166.8C526.3,166.9 528.5,166.8 530.7,167.0C532.8,167.2 535.4,167.5 537.2,167.9C539.0,168.2 540.5,168.5 541.5,169.0C542.5,169.4 543.0,170.2 543.3,170.5"/>
</g>
<rect x="436.40" y="158.40" width="106.90" height="81.40" fill="none" stroke="#c4c4c4" stroke-width="0.7"/>
<text x="457.78" y="246.50" font-size="4.8" fill="#4a4a4a" text-anchor="middle">20</text>
<text x="486.29" y="246.50" font-size="4.8" fill="#4a4a4a" text-anchor="middle">40</text>
<text x="514.79" y="246.50" font-size="4.8" fill="#4a4a4a" text-anchor="middle">60</text>
<text x="543.30" y="246.50" font-size="4.8" fill="#4a4a4a" text-anchor="middle">80</text>
<text x="434.80" y="241.90" font-size="4.7" fill="#4a4a4a" text-anchor="end">0.7</text>
<text x="434.80" y="214.77" font-size="4.7" fill="#4a4a4a" text-anchor="end">0.8</text>
<text x="434.80" y="187.63" font-size="4.7" fill="#4a4a4a" text-anchor="end">0.9</text>
<text x="434.80" y="160.50" font-size="4.7" fill="#4a4a4a" text-anchor="end">1</text>
<path d="M457.78,239.80v-1.1M457.78,158.40v1.1M486.29,239.80v-1.1M486.29,158.40v1.1M514.79,239.80v-1.1M514.79,158.40v1.1M543.30,239.80v-1.1M543.30,158.40v1.1M436.40,239.80h1.1M543.30,239.80h-1.1M436.40,212.67h1.1M543.30,212.67h-1.1M436.40,185.53h1.1M543.30,185.53h-1.1M436.40,158.40h1.1M543.30,158.40h-1.1" stroke="#c4c4c4" stroke-width="0.6" fill="none"/>
<text x="489.85" y="252.90" font-size="5.05" fill="#303030" text-anchor="middle">band number</text>
<text transform="translate(427.30,199.10) rotate(-90)" font-size="5" fill="#303030" text-anchor="middle">SSIM</text>
<text x="483.95" y="262.40" font-size="9.6" font-weight="bold" font-family="Liberation Serif, serif" fill="#111" text-anchor="middle">(h)</text>
<clipPath id="ci"><rect x="15.50" y="280.40" width="106.90" height="81.40"/></clipPath>
<g clip-path="url(#ci)" fill="none" stroke-width="1.05" stroke-linejoin="round" stroke-linecap="round">
<path stroke="#ffff1a" d="M15.6,350.1L17.2,348.5L18.8,353.3L19.9,361.0L21.0,361.0L22.4,330.8L23.7,344.7L24.8,341.5L26.0,344.0L27.4,337.2L29.1,349.0L30.7,337.2L31.7,332.9L32.8,340.0L33.9,344.7L35.5,341.0L37.1,343.1L39.3,338.3L40.9,336.1L42.5,343.7L44.1,334.5L45.7,351.2L48.4,351.2L50.6,341.5L52.7,337.2L55.4,344.2L58.1,336.1L59.7,348.0L61.8,342.6L64.0,337.2L65.6,349.0L67.8,341.5L70.0,342.6L72.7,343.1L76.0,344.2L78.1,341.0L80.3,335.5L82.5,344.2L84.7,337.7L86.8,336.6L89.0,334.4L91.2,335.5L93.3,337.7L95.5,342.0L97.7,334.4L99.9,338.8L103.1,336.6L106.4,335.5L109.7,334.4L112.9,337.7L116.2,336.6L119.4,339.9L122.3,338.8"/>
<path stroke="#1affff" d="M15.5,303.3C16.1,303.1 17.7,302.6 19.0,302.3C20.3,302.0 21.7,301.8 23.2,301.4C24.7,301.0 26.3,300.4 27.8,300.0C29.3,299.6 30.9,299.5 32.4,299.1C33.9,298.8 35.5,298.1 37.0,297.9C38.5,297.7 40.1,297.8 41.6,297.9C43.1,298.0 44.5,298.6 46.0,298.7C47.5,298.8 49.2,298.5 50.8,298.7C52.4,298.9 53.9,299.3 55.4,299.6C56.9,299.9 58.6,300.1 60.0,300.5C61.4,300.9 62.2,301.3 64.0,301.7C65.8,302.1 68.2,302.8 70.6,302.8C73.0,302.8 76.2,302.0 78.3,301.7C80.4,301.4 81.6,301.0 83.2,301.2C84.8,301.4 86.1,302.1 88.0,302.8C89.9,303.5 92.8,304.9 94.8,305.6C96.8,306.3 98.5,306.8 100.3,307.2C102.1,307.6 104.0,307.3 105.8,307.8C107.6,308.3 109.5,309.3 111.3,310.0C113.1,310.7 115.0,311.4 116.7,312.2C118.4,313.0 120.9,314.5 121.7,314.9L122.6,317.3"/>
<path stroke="#1aff1a" d="M15.5,302.8C16.1,302.6 18.2,302.0 19.0,301.8C19.8,301.6 20.3,301.4 20.6,301.4L21.0,320.4L21.4,301.4C21.7,301.3 22.1,301.2 23.2,300.9C24.3,300.6 26.3,299.9 27.8,299.5C29.3,299.1 31.2,298.9 32.4,298.6C33.6,298.3 34.6,297.9 35.0,297.8L35.5,362.0L36.0,297.8L37.0,297.4C37.8,297.4 40.1,297.3 41.6,297.4C43.1,297.5 44.5,298.1 46.0,298.2C47.5,298.3 49.2,298.0 50.8,298.2C52.4,298.4 53.9,298.8 55.4,299.1C56.9,299.4 58.6,299.6 60.0,300.0C61.4,300.4 62.2,300.8 64.0,301.2C65.8,301.6 68.2,302.3 70.6,302.3C73.0,302.3 77.0,301.4 78.3,301.2L79.5,301.0L80.0,362.0L80.5,301.0L81.5,300.8L82.0,362.0L82.5,300.8L83.2,300.7C83.6,300.9 85.4,301.6 85.8,301.7L86.3,362.0L86.8,301.7L88.0,302.3C89.1,302.8 93.1,304.4 94.8,305.1C96.5,305.8 97.8,306.1 98.3,306.3L98.8,362.0L99.2,306.3L100.3,306.7C101.2,306.8 104.0,306.8 105.8,307.3C107.6,307.8 109.5,308.8 111.3,309.5C113.1,310.2 115.0,310.9 116.7,311.7C118.4,312.5 120.9,314.0 121.7,314.4L122.6,316.8"/>
<path stroke="#b23cff" d="M15.5,309.3C16.0,308.6 17.5,306.2 18.5,305.0C19.5,303.8 20.5,302.0 21.4,302.0C22.3,302.0 23.0,305.2 24.1,305.2C25.2,305.2 26.7,302.9 27.8,302.0C28.9,301.1 29.8,300.5 30.6,300.1C31.4,299.7 31.8,298.1 32.5,299.5C33.2,300.9 34.0,308.3 34.7,308.4C35.5,308.5 35.9,301.5 37.0,300.1C38.1,298.7 40.1,299.8 41.6,300.1C43.1,300.4 44.7,301.9 46.2,302.0C47.7,302.1 49.3,300.9 50.8,301.0C52.3,301.1 53.9,301.9 55.4,302.4C56.9,302.9 58.6,303.5 60.0,303.8C61.4,304.1 62.2,304.0 64.0,304.3C65.8,304.6 68.2,305.4 70.6,305.4C73.0,305.4 76.1,304.3 78.3,304.3C80.5,304.3 82.1,304.8 83.8,305.4C85.5,305.9 86.4,307.2 88.2,307.6C90.0,308.1 93.0,307.9 94.8,308.1C96.6,308.3 97.9,308.2 99.2,308.7C100.5,309.2 101.0,310.4 102.5,310.9C104.0,311.3 106.2,310.8 108.0,311.4C109.8,311.9 111.7,313.5 113.5,314.2C115.3,314.9 117.5,314.9 119.0,315.3C120.5,315.8 121.8,316.6 122.4,316.9"/>
<path stroke="#ff40ff" d="M15.7,325.7C16.5,325.2 18.6,323.8 20.5,322.5C22.4,321.2 24.8,319.2 27.0,318.1C29.2,317.0 31.4,316.7 33.6,316.0C35.8,315.3 37.9,314.4 40.1,313.8C42.3,313.2 44.4,313.1 46.6,312.7C48.8,312.3 50.9,311.9 53.1,311.6C55.3,311.4 57.5,311.4 59.7,311.2C61.9,311.0 64.0,310.9 66.2,310.7C68.4,310.5 70.9,310.1 72.7,309.9C74.5,309.7 75.9,309.5 77.0,309.4C78.1,309.3 78.1,309.0 79.2,309.4C80.3,309.8 82.1,310.7 83.6,311.6C85.0,312.5 86.5,314.0 87.9,314.9C89.4,315.8 90.5,316.3 92.3,317.0C94.1,317.7 96.6,318.5 98.8,319.2C101.0,319.9 103.1,320.5 105.3,321.4C107.5,322.3 109.6,323.6 111.8,324.7C114.0,325.8 116.5,327.0 118.3,327.9C120.0,328.8 121.6,329.7 122.3,330.1"/>
<path stroke="#ff3c46" d="M15.5,320.4L18.6,311.2L21.4,329.7L23.2,310.3L25.0,321.3L26.9,313.0L28.7,319.5L31.0,307.5L32.9,322.2L34.7,318.5L36.6,308.4L38.0,305.2L40.7,307.5L42.5,309.3L44.4,308.4L46.3,330.0L48.1,309.3L49.5,305.7L50.8,326.0L53.6,317.6L54.9,333.0L56.4,304.7L58.2,326.0L59.2,329.5L60.5,317.6L61.9,323.1L64.0,315.8L65.6,338.0L67.3,312.0L69.5,323.0L72.2,309.2L75.0,312.0L76.6,318.6L78.3,309.2L80.5,323.0L82.7,336.0L84.9,317.5L87.1,325.2L89.3,312.0L90.9,318.6L92.6,311.4L94.2,323.0L95.9,312.0L97.5,326.3L100.3,312.0L102.5,310.9L104.1,319.7L105.8,312.5L107.4,327.4L109.1,317.5L111.3,316.4L113.5,323.0L115.1,321.9L116.7,326.3L118.4,321.9L120.0,326.3L121.7,317.5L122.6,320.0"/>
<path stroke="#3c46ff" d="M15.7,332.3C16.5,332.0 18.6,331.4 20.5,330.7C22.4,330.0 24.8,328.9 27.0,327.9C29.2,326.9 31.4,325.6 33.6,324.7C35.8,323.8 37.9,323.1 40.1,322.5C42.3,321.9 44.4,321.6 46.6,321.4C48.8,321.1 50.9,321.0 53.1,321.0C55.3,321.0 57.5,321.1 59.7,321.4C61.9,321.6 64.4,322.1 66.2,322.5C68.0,322.9 69.0,324.2 70.5,323.6C72.0,323.1 73.6,321.2 74.9,319.2C76.2,317.2 77.2,313.2 78.1,311.6C79.0,310.0 79.4,308.7 80.3,309.4C81.2,310.1 82.3,313.3 83.6,316.0C84.9,318.7 86.5,323.2 87.9,325.7C89.4,328.2 90.8,329.8 92.3,331.2C93.8,332.6 94.8,333.6 96.6,334.4C98.4,335.2 100.9,335.4 103.1,336.0C105.3,336.6 107.5,336.9 109.7,337.7C111.9,338.5 114.1,340.0 116.2,341.0C118.3,342.0 121.3,343.3 122.3,343.8"/>
<path stroke="#262626" d="M15.5,305.7C16.0,305.9 17.6,306.5 18.6,306.6C19.6,306.8 20.5,306.5 21.4,306.6C22.3,306.8 23.2,307.6 24.1,307.5C25.0,307.4 26.1,306.5 26.9,306.1C27.7,305.7 27.9,305.1 28.7,305.2C29.5,305.3 30.6,306.1 31.5,306.6C32.4,307.1 33.5,308.5 34.3,308.4C35.1,308.3 35.6,306.9 36.2,306.1C36.8,305.3 37.1,304.0 38.0,303.8C38.9,303.6 40.4,304.7 41.6,305.2C42.8,305.7 44.1,306.5 45.3,306.6C46.5,306.8 47.8,305.7 49.0,306.1C50.2,306.6 51.5,308.9 52.7,309.3C53.9,309.7 55.2,308.1 56.4,308.4C57.6,308.7 58.7,310.9 60.0,311.2C61.3,311.5 62.6,310.6 64.0,310.3C65.4,310.0 66.9,309.6 68.4,309.2C69.9,308.8 71.3,308.1 72.8,308.1C74.3,308.1 76.1,308.6 77.2,309.2C78.3,309.8 78.7,310.4 79.4,312.0C80.1,313.6 80.9,316.4 81.6,318.6C82.3,320.8 83.1,324.5 83.8,325.2C84.5,325.9 85.3,325.0 86.0,323.0C86.7,321.0 87.3,315.0 88.2,313.1C89.1,311.2 90.4,311.8 91.5,311.4C92.6,311.0 93.9,310.4 94.8,310.9C95.7,311.4 96.3,312.2 97.0,314.2C97.7,316.2 98.5,323.4 99.2,323.0C99.9,322.6 100.5,314.0 101.4,312.0C102.3,310.0 103.6,310.9 104.7,310.9C105.8,310.9 106.9,311.9 108.0,312.0C109.1,312.1 110.2,311.1 111.3,311.4C112.4,311.7 113.4,313.0 114.5,313.6C115.6,314.2 116.6,314.8 117.8,315.3C119.0,315.9 121.0,316.6 121.7,316.9"/>
<path stroke="#ff9030" d="M15.5,302.0C16.1,301.8 17.7,301.3 19.0,301.0C20.3,300.7 21.7,300.5 23.2,300.1C24.7,299.7 26.3,299.1 27.8,298.7C29.3,298.3 30.9,298.1 32.4,297.8C33.9,297.5 35.5,296.8 37.0,296.6C38.5,296.4 40.1,296.5 41.6,296.6C43.1,296.7 44.5,297.3 46.0,297.4C47.5,297.5 49.2,297.2 50.8,297.4C52.4,297.5 53.9,298.0 55.4,298.3C56.9,298.6 58.6,298.9 60.0,299.2C61.4,299.5 62.2,300.0 64.0,300.4C65.8,300.8 68.2,301.5 70.6,301.5C73.0,301.5 76.2,300.7 78.3,300.4C80.4,300.1 81.6,299.7 83.2,299.9C84.8,300.1 86.1,300.8 88.0,301.5C89.9,302.2 92.8,303.6 94.8,304.3C96.8,305.0 98.5,305.5 100.3,305.9C102.1,306.3 104.0,306.0 105.8,306.5C107.6,307.0 109.5,308.0 111.3,308.7C113.1,309.4 115.0,310.1 116.7,310.9C118.4,311.7 120.9,313.2 121.7,313.6L122.6,316.0"/>
</g>
<rect x="15.50" y="280.40" width="106.90" height="81.40" fill="none" stroke="#c4c4c4" stroke-width="0.7"/>
<text x="36.88" y="368.50" font-size="4.8" fill="#4a4a4a" text-anchor="middle">20</text>
<text x="65.39" y="368.50" font-size="4.8" fill="#4a4a4a" text-anchor="middle">40</text>
<text x="93.89" y="368.50" font-size="4.8" fill="#4a4a4a" text-anchor="middle">60</text>
<text x="122.40" y="368.50" font-size="4.8" fill="#4a4a4a" text-anchor="middle">80</text>
<text x="13.90" y="363.90" font-size="4.7" fill="#4a4a4a" text-anchor="end">20</text>
<text x="13.90" y="343.55" font-size="4.7" fill="#4a4a4a" text-anchor="end">25</text>
<text x="13.90" y="323.20" font-size="4.7" fill="#4a4a4a" text-anchor="end">30</text>
<text x="13.90" y="302.85" font-size="4.7" fill="#4a4a4a" text-anchor="end">35</text>
<text x="13.90" y="282.50" font-size="4.7" fill="#4a4a4a" text-anchor="end">40</text>
<path d="M36.88,361.80v-1.1M36.88,280.40v1.1M65.39,361.80v-1.1M65.39,280.40v1.1M93.89,361.80v-1.1M93.89,280.40v1.1M122.40,361.80v-1.1M122.40,280.40v1.1M15.50,361.80h1.1M122.40,361.80h-1.1M15.50,341.45h1.1M122.40,341.45h-1.1M15.50,321.10h1.1M122.40,321.10h-1.1M15.50,300.75h1.1M122.40,300.75h-1.1M15.50,280.40h1.1M122.40,280.40h-1.1" stroke="#c4c4c4" stroke-width="0.6" fill="none"/>
<text x="68.95" y="374.90" font-size="5.05" fill="#303030" text-anchor="middle">band number</text>
<text transform="translate(6.40,321.10) rotate(-90)" font-size="5" fill="#303030" text-anchor="middle">PSNR</text>
<text x="63.05" y="384.40" font-size="9.6" font-weight="bold" font-family="Liberation Serif, serif" fill="#111" text-anchor="middle">(i)</text>
<clipPath id="cj"><rect x="155.60" y="280.40" width="106.90" height="81.40"/></clipPath>
<g clip-path="url(#cj)" fill="none" stroke-width="1.05" stroke-linejoin="round" stroke-linecap="round">
<path stroke="#ffff1a" d="M155.7,352.9L157.0,355.0L158.3,357.3L159.5,362.0L161.6,362.0L162.7,335.5L164.5,337.0L167.0,333.3L170.3,336.0L173.6,335.1L178.0,336.6L181.2,334.4L184.4,337.7L186.6,348.6L188.8,342.0L193.1,336.6L197.5,338.8L201.8,341.0L205.1,343.1L208.4,342.0L212.7,339.9L217.0,335.5L219.2,330.1L221.4,326.0L223.6,323.0L227.9,321.4L232.3,322.5L237.0,322.2L241.0,322.0L246.0,321.8L250.0,322.2L254.1,322.5L258.0,323.2L262.4,324.7"/>
<path stroke="#1affff" d="M155.8,305.3C156.2,305.1 157.1,304.7 158.0,304.3C158.9,303.9 160.2,303.3 161.2,302.7C162.2,302.1 163.0,301.4 163.8,300.8C164.7,300.2 165.0,299.8 166.3,299.1C167.6,298.4 169.7,297.4 171.4,296.5C173.1,295.6 174.8,294.5 176.5,294.0C178.2,293.5 179.9,293.5 181.6,293.3C183.3,293.1 185.1,293.1 186.8,293.0C188.5,292.9 190.3,292.9 192.0,293.0C193.7,293.1 195.3,293.2 197.0,293.3C198.7,293.4 200.2,293.5 202.0,293.5C203.8,293.5 206.2,293.7 208.0,293.5C209.8,293.3 211.4,292.7 213.1,292.4C214.8,292.1 216.3,292.0 218.0,291.8C219.7,291.6 221.7,291.4 223.4,291.4C225.2,291.4 226.8,291.7 228.5,291.9C230.2,292.1 231.9,292.1 233.6,292.4C235.3,292.7 237.0,293.2 238.7,293.5C240.4,293.8 242.1,293.8 243.8,294.0C245.5,294.2 247.2,294.3 248.9,294.5C250.6,294.7 252.3,294.9 254.0,295.1C255.7,295.4 257.8,295.7 259.2,296.0C260.6,296.3 262.0,296.8 262.6,297.0"/>
<path stroke="#1aff1a" d="M155.8,304.8C156.2,304.6 157.3,304.2 158.0,303.8C158.7,303.4 159.7,302.8 160.1,302.6L160.5,362.0L160.9,302.6L161.2,302.2L161.0,302.1L161.4,362.0L161.8,302.1C162.2,301.8 163.1,300.9 163.8,300.3C164.5,299.7 165.0,299.3 166.3,298.6C167.6,297.9 170.1,296.7 171.4,296.0C172.7,295.3 173.8,294.7 174.2,294.4L174.7,362.0L175.1,294.4L176.5,293.5L176.4,293.5L176.8,362.0L177.2,293.5C178.0,293.3 180.0,293.0 181.6,292.8C183.2,292.6 185.1,292.6 186.8,292.5C188.5,292.4 190.3,292.4 192.0,292.5C193.7,292.6 195.3,292.7 197.0,292.8C198.7,292.9 200.2,293.0 202.0,293.0C203.8,293.0 206.2,293.2 208.0,293.0C209.8,292.8 211.4,292.2 213.1,291.9C214.8,291.6 216.9,291.4 218.0,291.3C219.1,291.2 219.5,291.2 219.9,291.1L220.3,362.0L220.8,291.1C221.1,291.1 222.5,290.9 222.9,290.9L223.3,362.0L223.8,290.9L223.4,290.9C224.2,291.0 226.8,291.2 228.5,291.4C230.2,291.6 232.3,291.7 233.6,291.9C234.9,292.1 236.0,292.5 236.5,292.6L236.9,362.0L237.3,292.6L238.7,293.0L238.8,293.0L239.2,362.0L239.6,293.0C240.3,293.1 242.5,293.4 243.8,293.5C245.1,293.6 246.8,293.8 247.5,293.9L247.9,306.0L248.3,293.9L248.9,294.0C249.8,294.1 252.5,294.4 254.0,294.6C255.5,294.8 257.1,295.2 257.8,295.3L258.2,306.0L258.6,295.3L259.2,295.5C259.8,295.7 262.0,296.3 262.6,296.5"/>
<path stroke="#b23cff" d="M155.8,312.6C156.2,311.6 157.2,307.5 158.1,306.5C159.0,305.5 160.2,306.9 161.0,306.5C161.8,306.1 162.5,304.8 163.2,303.9C163.9,303.0 164.6,301.6 165.3,301.4C166.0,301.1 166.5,302.9 167.3,302.4C168.2,301.9 169.4,299.5 170.4,298.3C171.4,297.1 172.9,295.7 173.4,295.2L174.5,299.3C175.0,298.5 176.3,295.6 177.5,294.7C178.7,293.8 180.0,294.2 181.6,294.2C183.2,294.2 185.1,294.7 186.8,294.7C188.5,294.7 190.3,294.2 192.0,294.2C193.7,294.2 195.3,294.5 197.0,294.7C198.7,294.9 200.3,295.1 202.1,295.2C203.9,295.3 205.3,295.4 208.0,295.2C210.7,294.9 216.0,293.9 218.2,293.7C220.4,293.4 220.3,293.4 221.3,293.7C222.3,293.9 223.2,295.0 224.4,295.2C225.6,295.4 227.0,294.7 228.5,294.7C230.0,294.7 232.2,295.2 233.6,295.2C235.0,295.2 236.2,294.8 236.7,294.7L238.0,294.7L238.7,362.0L239.5,296.0C239.9,295.9 240.2,295.1 241.8,295.2C243.4,295.2 246.9,296.0 248.9,296.3C250.9,296.6 252.4,296.6 254.1,296.8C255.8,297.1 257.8,297.5 259.2,297.8C260.6,298.1 262.0,298.6 262.6,298.8"/>
<path stroke="#ff40ff" d="M155.7,331.2C156.4,330.0 158.6,326.2 160.0,324.0C161.4,321.8 162.6,319.8 164.2,318.0C165.8,316.2 167.5,314.8 169.4,313.0C171.3,311.2 174.0,308.9 175.7,307.3C177.4,305.7 178.1,304.3 179.6,303.4C181.1,302.5 183.0,302.3 184.7,301.9C186.4,301.5 188.1,301.1 189.8,300.9C191.5,300.6 193.2,300.6 194.9,300.4C196.6,300.2 197.6,300.0 200.1,299.8C202.6,299.6 207.5,299.5 210.0,299.3C212.5,299.1 213.3,299.0 215.0,298.5C216.7,298.0 218.3,297.0 220.0,296.5C221.7,296.0 223.3,295.4 225.0,295.5C226.7,295.6 228.2,296.3 230.0,297.0C231.8,297.7 234.0,298.7 236.0,299.5C238.0,300.3 239.7,301.1 241.8,301.9C244.0,302.7 246.9,303.6 248.9,304.4C250.9,305.2 252.4,305.7 254.1,306.5C255.8,307.3 257.8,308.4 259.2,309.0C260.6,309.6 262.0,309.9 262.6,310.1"/>
<path stroke="#ff3c46" d="M155.7,322.5L157.7,313.8L159.0,322.0L160.5,330.0L161.6,342.0L163.0,321.0L164.9,328.0L166.5,316.0L168.0,322.0L169.5,335.0L171.0,320.0L172.0,318.0L173.6,344.2L175.7,305.0L177.5,312.0L180.0,313.8L183.3,331.2L186.6,305.0L189.8,322.5L193.1,337.7L196.4,311.6L199.7,326.8L202.9,307.3L205.7,351.8L208.4,309.4L210.0,317.8L212.0,306.0L214.0,301.5L216.2,304.0L217.2,309.6L218.2,298.3L220.0,300.7L221.5,300.0L224.0,305.0L226.0,302.0L228.5,301.4L230.0,298.3L232.6,314.7L234.6,298.3L236.7,310.6L238.5,306.0L241.8,300.4L243.8,310.6L245.9,300.4L247.9,320.8L249.9,301.4L252.0,300.4L254.0,310.6L256.1,317.8L258.2,313.6L260.2,303.4L262.4,310.6"/>
<path stroke="#3c46ff" d="M155.7,336.0C156.2,335.0 157.6,331.7 158.5,330.0C159.4,328.3 160.4,327.2 161.3,326.0C162.2,324.8 163.2,323.5 164.2,322.5C165.1,321.5 166.1,320.8 167.0,320.0C167.9,319.2 168.6,318.6 169.4,317.8C170.2,317.1 171.2,316.2 172.0,315.5C172.8,314.8 173.2,314.6 174.5,313.8C175.8,313.0 177.9,311.6 179.6,310.6C181.3,309.6 183.0,308.6 184.7,308.0C186.4,307.4 188.1,307.3 189.8,307.0C191.5,306.7 193.2,306.5 194.9,306.3C196.6,306.1 198.4,306.1 200.1,306.0C201.8,305.9 203.7,305.8 205.0,305.7C206.3,305.6 206.7,306.0 208.0,305.5C209.3,305.0 211.4,304.3 213.1,302.9C214.8,301.5 216.8,298.6 218.2,297.3C219.6,296.0 220.3,295.4 221.3,295.2C222.3,295.0 223.2,295.3 224.4,296.3C225.6,297.3 227.0,299.9 228.5,301.4C230.0,302.8 231.9,303.9 233.6,305.0C235.3,306.1 237.0,307.1 238.7,308.0C240.4,308.9 242.1,309.4 243.8,310.1C245.5,310.8 247.2,311.3 248.9,312.1C250.6,312.9 252.4,313.9 254.1,314.7C255.8,315.5 257.8,316.0 259.2,316.7C260.6,317.4 262.0,318.4 262.6,318.8"/>
<path stroke="#262626" d="M155.8,307.0C156.4,307.0 158.0,307.2 159.1,307.0C160.2,306.8 161.2,306.0 162.2,305.5C163.2,305.0 164.3,304.1 165.3,304.0C166.3,303.9 167.4,305.3 168.3,305.0C169.2,304.7 170.1,302.8 170.9,302.4C171.8,302.0 172.6,302.6 173.4,302.9C174.2,303.1 175.1,304.5 176.0,303.9C176.9,303.3 177.5,300.1 178.6,299.3C179.7,298.5 181.3,299.2 182.7,299.3C184.1,299.4 185.6,299.8 186.8,299.8C188.0,299.8 188.8,299.0 189.8,299.3C190.8,299.6 191.7,301.2 192.9,301.4C194.1,301.6 195.8,300.4 197.0,300.4C198.2,300.4 198.9,301.1 200.1,301.4C201.3,301.7 203.0,302.7 204.2,302.4C205.4,302.1 205.9,300.3 207.2,299.8C208.5,299.3 210.5,299.6 212.0,299.3C213.5,299.0 215.0,298.2 216.2,297.8C217.4,297.4 218.5,295.5 219.3,296.8C220.2,298.1 220.6,302.4 221.3,305.5C222.0,308.6 223.1,314.0 223.4,315.7L224.4,320.3C224.7,319.5 225.3,319.4 226.0,315.7C226.7,312.0 227.4,301.2 228.5,298.3C229.6,295.4 231.5,298.1 232.6,298.3C233.7,298.5 234.2,297.9 235.1,299.3C235.9,300.7 236.9,304.8 237.7,306.5C238.5,308.2 239.1,310.6 239.7,309.6C240.3,308.6 240.6,302.4 241.3,300.4C242.0,298.4 242.5,298.5 243.8,297.8C245.1,297.1 247.2,296.6 248.9,296.3C250.6,296.1 252.4,296.0 254.1,296.3C255.8,296.6 257.8,297.9 259.2,298.3C260.6,298.7 262.0,298.7 262.6,298.8"/>
<path stroke="#ff9030" d="M155.8,304.0C156.2,303.8 157.1,303.4 158.0,303.0C158.9,302.6 160.2,302.0 161.2,301.4C162.2,300.8 163.0,300.1 163.8,299.5C164.7,298.9 165.0,298.5 166.3,297.8C167.6,297.1 169.7,296.1 171.4,295.2C173.1,294.3 174.8,293.2 176.5,292.7C178.2,292.2 179.9,292.2 181.6,292.0C183.3,291.8 185.1,291.8 186.8,291.7C188.5,291.6 190.3,291.6 192.0,291.7C193.7,291.8 195.3,291.9 197.0,292.0C198.7,292.1 200.2,292.2 202.0,292.2C203.8,292.2 206.2,292.4 208.0,292.2C209.8,292.0 211.4,291.4 213.1,291.1C214.8,290.8 216.3,290.7 218.0,290.5C219.7,290.3 221.7,290.1 223.4,290.1C225.2,290.1 226.8,290.4 228.5,290.6C230.2,290.8 231.9,290.8 233.6,291.1C235.3,291.4 237.0,291.9 238.7,292.2C240.4,292.5 242.1,292.5 243.8,292.7C245.5,292.9 247.2,293.0 248.9,293.2C250.6,293.4 252.3,293.6 254.0,293.8C255.7,294.1 257.8,294.4 259.2,294.7C260.6,295.0 262.0,295.5 262.6,295.7"/>
</g>
<rect x="155.60" y="280.40" width="106.90" height="81.40" fill="none" stroke="#c4c4c4" stroke-width="0.7"/>
<text x="176.98" y="368.50" font-size="4.8" fill="#4a4a4a" text-anchor="middle">20</text>
<text x="205.49" y="368.50" font-size="4.8" fill="#4a4a4a" text-anchor="middle">40</text>
<text x="233.99" y="368.50" font-size="4.8" fill="#4a4a4a" text-anchor="middle">60</text>
<text x="262.50" y="368.50" font-size="4.8" fill="#4a4a4a" text-anchor="middle">80</text>
<text x="154.00" y="363.90" font-size="4.7" fill="#4a4a4a" text-anchor="end">0.7</text>
<text x="154.00" y="336.77" font-size="4.7" fill="#4a4a4a" text-anchor="end">0.8</text>
<text x="154.00" y="309.63" font-size="4.7" fill="#4a4a4a" text-anchor="end">0.9</text>
<text x="154.00" y="282.50" font-size="4.7" fill="#4a4a4a" text-anchor="end">1</text>
<path d="M176.98,361.80v-1.1M176.98,280.40v1.1M205.49,361.80v-1.1M205.49,280.40v1.1M233.99,361.80v-1.1M233.99,280.40v1.1M262.50,361.80v-1.1M262.50,280.40v1.1M155.60,361.80h1.1M262.50,361.80h-1.1M155.60,334.67h1.1M262.50,334.67h-1.1M155.60,307.53h1.1M262.50,307.53h-1.1M155.60,280.40h1.1M262.50,280.40h-1.1" stroke="#c4c4c4" stroke-width="0.6" fill="none"/>
<text x="209.05" y="374.90" font-size="5.05" fill="#303030" text-anchor="middle">band number</text>
<text transform="translate(146.50,321.10) rotate(-90)" font-size="5" fill="#303030" text-anchor="middle">SSIM</text>
<text x="203.15" y="384.40" font-size="9.6" font-weight="bold" font-family="Liberation Serif, serif" fill="#111" text-anchor="middle">(j)</text>
<clipPath id="ck"><rect x="296.30" y="280.40" width="106.90" height="81.40"/></clipPath>
<g clip-path="url(#ck)" fill="none" stroke-width="1.05" stroke-linejoin="round" stroke-linecap="round">
<path stroke="#ffff1a" d="M296.7,350.7L299.0,348.5L300.5,355.0L301.5,361.6L302.6,350.0L303.7,337.7L305.9,344.2L308.0,339.0L311.3,346.4L314.6,336.6L316.7,344.2L320.0,335.5L323.3,342.0L326.5,350.7L329.8,344.2L333.0,338.8L336.3,335.5L339.6,344.2L342.8,342.0L346.1,344.2L349.3,339.9L353.7,342.0L357.0,344.2L360.2,339.9L363.5,337.7L366.7,333.3L370.0,335.5L373.3,339.9L376.5,334.4L379.8,344.2L382.0,337.7L386.3,336.6L390.7,337.7L395.0,336.6L399.3,338.8L403.3,333.3"/>
<path stroke="#1affff" d="M296.4,303.6C297.0,303.6 298.5,303.9 300.0,303.6C301.5,303.3 303.5,302.6 305.2,302.0C306.9,301.4 308.7,300.6 310.4,300.0C312.1,299.4 313.8,298.8 315.5,298.5C317.2,298.2 318.9,298.0 320.6,298.0C322.3,298.0 324.0,298.3 325.7,298.5C327.4,298.7 329.1,298.8 330.8,299.0C332.5,299.2 334.2,299.2 335.9,299.5C337.6,299.8 339.3,300.1 341.0,300.5C342.7,300.9 344.9,301.5 346.2,302.0C347.5,302.5 347.7,303.5 349.0,303.6C350.3,303.7 352.3,303.2 354.0,302.8C355.7,302.4 357.5,301.6 359.2,301.5C360.9,301.4 362.7,301.5 364.4,302.0C366.1,302.5 367.8,303.8 369.5,304.6C371.2,305.4 372.9,306.1 374.6,306.7C376.3,307.3 378.0,307.9 379.7,308.2C381.4,308.5 383.1,308.4 384.8,308.7C386.5,309.0 388.2,309.6 389.9,310.2C391.6,310.8 393.4,311.6 395.1,312.3C396.8,313.0 398.9,313.7 400.2,314.3C401.5,314.9 402.7,315.6 403.2,315.8"/>
<path stroke="#1aff1a" d="M296.4,303.1C297.0,303.1 299.4,303.1 300.0,303.1L300.6,302.8L301.0,362.0L301.4,302.8C302.1,302.6 303.7,302.0 305.2,301.5C306.7,301.0 308.7,300.1 310.4,299.5C312.1,298.9 314.6,298.2 315.5,298.0L315.8,297.9L316.2,362.0L316.6,297.9C317.3,297.9 319.1,297.5 320.6,297.5C322.1,297.5 324.0,297.8 325.7,298.0C327.4,298.2 329.1,298.3 330.8,298.5C332.5,298.7 334.2,298.8 335.9,299.0C337.6,299.2 339.3,299.6 341.0,300.0C342.7,300.4 344.9,301.0 346.2,301.5C347.5,302.0 347.7,303.0 349.0,303.1C350.3,303.2 352.3,302.7 354.0,302.3C355.7,301.9 358.3,301.2 359.2,301.0L360.6,301.2L361.0,362.0L361.4,301.2C361.9,301.2 363.9,301.4 364.4,301.5L364.1,301.6L364.5,362.0L364.9,301.6C365.7,302.0 367.9,303.3 369.5,304.1C371.1,304.9 373.2,305.7 374.6,306.2C376.0,306.7 377.5,307.2 378.1,307.3L378.5,362.0L378.9,307.3L379.7,307.7C380.6,307.8 383.4,307.9 384.8,308.2C386.2,308.5 387.3,309.1 387.9,309.2L388.3,362.0L388.8,309.2L389.9,309.7C390.8,310.1 393.4,311.1 395.1,311.8C396.8,312.5 398.9,313.2 400.2,313.8C401.5,314.4 402.7,315.1 403.2,315.3"/>
<path stroke="#b23cff" d="M296.5,307.9C296.9,307.4 298.3,304.8 299.1,304.8C299.9,304.8 300.4,308.0 301.2,307.9C302.0,307.8 302.8,305.1 303.7,304.3C304.6,303.5 305.5,303.8 306.3,303.3C307.1,302.8 307.5,302.0 308.3,301.3C309.1,300.6 310.5,299.4 311.4,299.2C312.2,299.0 312.7,299.7 313.4,300.2C314.1,300.7 314.8,302.5 315.5,302.3C316.2,302.1 316.5,299.6 317.5,299.2C318.5,298.8 320.2,299.5 321.6,299.7C323.0,299.9 324.3,299.9 325.7,300.2C327.1,300.5 328.4,301.2 329.8,301.3C331.2,301.4 332.5,300.5 333.9,300.7C335.3,300.9 336.6,301.9 338.0,302.3C339.4,302.7 340.7,302.5 342.1,302.8C343.5,303.1 345.1,303.9 346.2,304.3C347.3,304.7 347.7,305.4 349.0,305.4C350.3,305.4 352.3,304.8 354.0,304.5C355.7,304.2 357.5,303.7 359.2,303.8C360.9,303.9 362.7,304.8 364.4,305.4C366.1,306.0 367.8,306.9 369.5,307.4C371.2,307.9 373.2,308.1 374.6,308.4C376.0,308.7 376.3,309.0 377.7,309.4C379.1,309.8 381.1,310.1 382.8,310.5C384.5,310.9 386.4,311.5 387.9,312.0C389.4,312.5 390.5,313.1 392.0,313.5C393.5,313.9 395.2,314.0 397.1,314.5C399.0,315.0 402.2,316.2 403.2,316.6"/>
<path stroke="#ff40ff" d="M296.5,326.3C297.2,326.1 299.6,325.6 301.0,324.8C302.4,324.0 303.6,322.7 305.2,321.7C306.8,320.7 308.7,319.7 310.4,318.7C312.1,317.7 314.1,316.5 315.5,315.6C316.9,314.7 316.8,314.0 318.5,313.5C320.2,313.0 322.8,312.8 325.7,312.5C328.6,312.2 332.5,311.7 335.9,311.5C339.3,311.3 343.3,311.7 346.2,311.5C349.1,311.3 350.7,310.9 353.0,310.5C355.3,310.1 358.2,309.1 360.2,309.4C362.2,309.6 363.4,310.9 365.0,312.0C366.6,313.1 367.9,315.1 369.5,316.1C371.1,317.1 372.9,317.4 374.6,318.0C376.3,318.6 378.0,319.2 379.7,319.7C381.4,320.1 383.1,320.2 384.8,320.7C386.5,321.2 388.2,322.1 389.9,322.8C391.6,323.5 392.9,324.0 395.1,324.8C397.3,325.6 401.9,327.4 403.2,327.9"/>
<path stroke="#ff3c46" d="M296.5,320.7L298.6,311.5L300.6,323.8L302.7,315.6L305.2,307.4L307.3,318.7L309.3,310.5L311.4,308.4L313.4,320.7L315.5,307.9L318.5,304.3L321.6,307.4L324.7,309.4L326.7,313.5L327.8,328.9L329.8,309.4L331.8,307.4L333.9,325.8L335.9,313.5L338.0,307.4L340.0,327.9L343.1,312.5L344.1,323.8L346.2,309.4L348.2,326.8L349.5,320.7L350.5,310.5L353.0,319.5L355.1,313.5L357.2,321.7L359.2,308.4L362.3,307.4L365.4,314.5L368.4,316.6L370.5,320.7L372.5,324.8L374.6,313.5L376.6,320.7L378.7,313.5L380.7,315.6L382.8,324.8L384.8,315.6L386.9,320.7L389.4,323.8L391.0,318.7L393.0,325.8L395.1,320.7L397.1,323.8L399.2,318.7L401.2,322.8L403.2,318.0"/>
<path stroke="#3c46ff" d="M296.5,333.0C297.1,332.7 298.9,331.6 300.0,331.0C301.1,330.4 302.1,330.0 303.2,329.4C304.3,328.8 305.6,328.1 306.8,327.5C308.0,326.9 309.2,326.4 310.4,325.8C311.6,325.2 312.8,324.6 314.0,324.0C315.2,323.4 316.2,322.6 317.5,322.2C318.8,321.8 320.2,321.8 321.6,321.6C323.0,321.4 323.3,321.3 325.7,321.2C328.1,321.1 332.5,321.0 335.9,321.2C339.3,321.4 344.0,321.8 346.2,322.2C348.4,322.6 348.0,323.7 349.0,323.8C350.0,323.9 351.0,323.4 352.0,322.7C353.0,322.0 354.1,320.9 355.1,319.7C356.1,318.5 357.3,317.1 358.2,315.6C359.1,314.1 359.6,311.4 360.3,310.5C361.0,309.6 361.5,309.1 362.4,310.0C363.2,310.9 364.4,313.3 365.4,315.6C366.4,317.9 367.4,321.4 368.4,323.8C369.3,326.2 370.1,328.6 371.1,330.1C372.1,331.6 373.2,332.3 374.3,333.0C375.4,333.7 375.6,333.8 377.6,334.4C379.6,335.0 383.4,335.7 386.3,336.6C389.2,337.5 392.2,338.7 395.0,339.9C397.8,341.1 401.9,343.1 403.3,343.8"/>
<path stroke="#262626" d="M296.5,305.4C297.2,305.4 299.4,305.4 300.6,305.4C301.8,305.4 302.8,305.1 303.7,305.4C304.6,305.6 305.4,306.9 306.3,306.9C307.2,306.9 308.5,305.6 309.3,305.4C310.1,305.1 310.4,305.1 311.4,305.4C312.4,305.6 314.3,307.0 315.5,306.9C316.7,306.8 317.3,304.9 318.5,304.8C319.7,304.7 321.4,306.3 322.6,306.4C323.8,306.5 324.5,305.3 325.7,305.4C326.9,305.5 328.4,306.6 329.8,306.9C331.2,307.1 332.5,306.8 333.9,306.9C335.3,307.0 336.8,307.1 338.0,307.4C339.2,307.7 339.7,308.6 341.1,308.9C342.5,309.1 344.9,308.8 346.2,308.9C347.5,309.0 347.7,309.4 349.0,309.4C350.3,309.4 352.3,309.2 354.0,308.9C355.7,308.6 358.0,307.1 359.2,307.4C360.4,307.7 360.6,308.3 361.3,310.5C362.0,312.7 362.6,317.8 363.3,320.7C364.0,323.6 364.8,327.4 365.4,327.9C366.0,328.4 366.4,326.2 366.9,323.8C367.4,321.4 367.6,315.5 368.4,313.5C369.2,311.5 370.3,312.1 371.5,312.0C372.7,311.9 374.4,312.1 375.6,313.0C376.8,313.9 377.9,316.8 378.7,317.6C379.5,318.5 380.0,319.0 380.7,318.1C381.4,317.2 381.8,313.1 382.8,312.0C383.8,310.9 385.7,311.2 386.9,311.5C388.1,311.8 388.9,313.2 389.9,313.5C390.9,313.8 392.0,313.1 393.0,313.5C394.0,313.9 395.1,315.2 396.1,315.6C397.1,316.0 398.0,315.4 399.2,315.6C400.4,315.9 402.5,316.9 403.2,317.1"/>
<path stroke="#ff9030" d="M296.4,302.3C297.0,302.3 298.5,302.6 300.0,302.3C301.5,302.0 303.5,301.3 305.2,300.7C306.9,300.1 308.7,299.3 310.4,298.7C312.1,298.1 313.8,297.5 315.5,297.2C317.2,296.9 318.9,296.7 320.6,296.7C322.3,296.7 324.0,297.0 325.7,297.2C327.4,297.4 329.1,297.5 330.8,297.7C332.5,297.9 334.2,297.9 335.9,298.2C337.6,298.4 339.3,298.8 341.0,299.2C342.7,299.6 344.9,300.2 346.2,300.7C347.5,301.2 347.7,302.2 349.0,302.3C350.3,302.4 352.3,301.9 354.0,301.5C355.7,301.1 357.5,300.3 359.2,300.2C360.9,300.1 362.7,300.2 364.4,300.7C366.1,301.2 367.8,302.5 369.5,303.3C371.2,304.1 372.9,304.8 374.6,305.4C376.3,306.0 378.0,306.6 379.7,306.9C381.4,307.2 383.1,307.1 384.8,307.4C386.5,307.7 388.2,308.3 389.9,308.9C391.6,309.5 393.4,310.3 395.1,311.0C396.8,311.7 398.9,312.4 400.2,313.0C401.5,313.6 402.7,314.2 403.2,314.5"/>
</g>
<rect x="296.30" y="280.40" width="106.90" height="81.40" fill="none" stroke="#c4c4c4" stroke-width="0.7"/>
<text x="317.68" y="368.50" font-size="4.8" fill="#4a4a4a" text-anchor="middle">20</text>
<text x="346.19" y="368.50" font-size="4.8" fill="#4a4a4a" text-anchor="middle">40</text>
<text x="374.69" y="368.50" font-size="4.8" fill="#4a4a4a" text-anchor="middle">60</text>
<text x="403.20" y="368.50" font-size="4.8" fill="#4a4a4a" text-anchor="middle">80</text>
<text x="294.70" y="363.90" font-size="4.7" fill="#4a4a4a" text-anchor="end">20</text>
<text x="294.70" y="343.55" font-size="4.7" fill="#4a4a4a" text-anchor="end">25</text>
<text x="294.70" y="323.20" font-size="4.7" fill="#4a4a4a" text-anchor="end">30</text>
<text x="294.70" y="302.85" font-size="4.7" fill="#4a4a4a" text-anchor="end">35</text>
<text x="294.70" y="282.50" font-size="4.7" fill="#4a4a4a" text-anchor="end">40</text>
<path d="M317.68,361.80v-1.1M317.68,280.40v1.1M346.19,361.80v-1.1M346.19,280.40v1.1M374.69,361.80v-1.1M374.69,280.40v1.1M403.20,361.80v-1.1M403.20,280.40v1.1M296.30,361.80h1.1M403.20,361.80h-1.1M296.30,341.45h1.1M403.20,341.45h-1.1M296.30,321.10h1.1M403.20,321.10h-1.1M296.30,300.75h1.1M403.20,300.75h-1.1M296.30,280.40h1.1M403.20,280.40h-1.1" stroke="#c4c4c4" stroke-width="0.6" fill="none"/>
<text x="349.75" y="374.90" font-size="5.05" fill="#303030" text-anchor="middle">band number</text>
<text transform="translate(287.20,321.10) rotate(-90)" font-size="5" fill="#303030" text-anchor="middle">PSNR</text>
<text x="343.85" y="384.40" font-size="9.6" font-weight="bold" font-family="Liberation Serif, serif" fill="#111" text-anchor="middle">(k)</text>
<clipPath id="cl"><rect x="436.40" y="280.40" width="106.90" height="81.40"/></clipPath>
<g clip-path="url(#cl)" fill="none" stroke-width="1.05" stroke-linejoin="round" stroke-linecap="round">
<path stroke="#ffff1a" d="M436.7,350.7L438.2,355.0L439.5,362.0L441.5,362.0L442.3,340.0L443.7,334.4L448.0,332.3L452.4,334.4L456.7,336.6L461.0,333.3L465.4,336.6L467.6,341.0L469.8,336.6L476.3,336.6L480.7,337.7L485.0,341.0L489.3,342.0L493.7,339.9L498.0,332.3L500.2,329.0L503.5,325.0L506.7,322.5L513.2,322.5L522.0,323.6L532.8,323.6L543.3,324.7"/>
<path stroke="#1affff" d="M436.5,303.7C437.2,303.4 439.6,302.5 441.0,301.8C442.4,301.1 443.6,300.5 445.2,299.6C446.8,298.7 448.7,297.4 450.4,296.5C452.1,295.6 453.8,295.0 455.5,294.5C457.2,294.0 458.9,293.7 460.6,293.5C462.3,293.3 464.0,293.4 465.7,293.3C467.4,293.2 469.1,293.0 470.8,293.0C472.5,293.0 474.3,293.2 476.0,293.3C477.7,293.4 479.4,293.4 481.1,293.5C482.8,293.6 484.5,294.1 486.2,294.0C487.9,293.9 489.9,293.1 491.5,292.8C493.1,292.5 494.6,292.3 496.0,292.1C497.4,291.9 498.6,291.6 500.2,291.6C501.8,291.6 503.8,292.1 505.6,292.3C507.4,292.5 509.3,292.7 511.1,292.9C512.9,293.1 514.7,293.4 516.5,293.7C518.3,293.9 520.2,294.2 522.0,294.4C523.8,294.6 525.6,294.7 527.4,294.8C529.2,294.9 531.0,294.9 532.8,295.1C534.6,295.3 536.3,295.6 538.0,295.8C539.7,296.1 542.1,296.5 542.9,296.6"/>
<path stroke="#1aff1a" d="M436.5,303.2C437.2,302.9 440.2,301.6 441.0,301.3L440.7,301.2L441.1,362.0L441.6,301.2L441.8,300.9L442.2,362.0L442.6,300.9C443.1,300.6 443.9,299.9 445.2,299.1C446.5,298.3 448.8,296.8 450.4,296.0C452.0,295.2 453.9,294.5 454.6,294.2L455.0,362.0L455.4,294.2L455.5,294.0L456.6,293.7L457.0,362.0L457.4,293.7C458.0,293.6 459.2,293.2 460.6,293.0C462.0,292.8 464.0,292.9 465.7,292.8C467.4,292.7 469.1,292.5 470.8,292.5C472.5,292.5 474.3,292.7 476.0,292.8C477.7,292.9 479.4,292.9 481.1,293.0C482.8,293.1 484.5,293.6 486.2,293.5C487.9,293.4 489.9,292.6 491.5,292.3C493.1,292.0 494.6,291.8 496.0,291.6C497.4,291.4 499.5,291.2 500.2,291.1L500.9,291.2L501.3,362.0L501.8,291.2C502.4,291.3 505.0,291.7 505.6,291.8L505.2,291.8L505.7,362.0L506.1,291.8C507.0,291.9 509.4,292.2 511.1,292.4C512.8,292.6 515.3,293.0 516.5,293.2C517.7,293.4 518.0,293.4 518.2,293.5L518.7,362.0L519.2,293.5L520.4,293.7L520.9,362.0L521.4,293.7L522.0,293.9C522.9,294.0 526.5,294.2 527.4,294.3L528.0,294.4L528.5,362.0L529.0,294.4C529.6,294.4 531.3,294.4 532.8,294.6C534.3,294.8 537.1,295.2 538.0,295.3L537.8,295.3L538.3,310.0L538.8,295.3C539.4,295.5 542.2,296.0 542.9,296.1"/>
<path stroke="#b23cff" d="M436.5,312.1C436.9,311.2 438.2,307.9 439.1,307.0C440.0,306.1 441.0,307.2 442.0,306.5C443.0,305.8 444.1,303.9 445.2,302.9C446.2,301.9 447.3,301.3 448.3,300.4C449.3,299.5 450.4,298.2 451.4,297.3C452.4,296.4 453.9,295.6 454.4,295.2L455.5,298.3C456.0,297.7 457.3,295.4 458.5,294.7C459.7,294.0 461.1,294.2 462.6,294.2C464.1,294.2 466.0,294.7 467.7,294.7C469.4,294.7 471.2,294.2 472.9,294.2C474.6,294.2 476.3,294.5 478.0,294.7C479.7,294.9 480.9,295.2 483.1,295.2C485.4,295.2 488.6,294.9 491.5,294.7C494.4,294.5 497.9,293.8 500.2,293.8C502.4,293.8 503.2,294.1 505.0,294.5C506.8,294.9 509.3,295.9 511.1,296.4C512.9,296.9 514.8,297.3 516.0,297.5C517.2,297.7 518.1,297.5 518.5,297.5L519.2,362.0L520.0,298.0C520.3,297.9 519.9,297.5 522.0,297.5C524.1,297.5 529.2,297.8 532.8,298.2C536.3,298.6 541.5,299.4 543.3,299.7"/>
<path stroke="#ff40ff" d="M436.5,333.0C437.1,332.2 438.9,329.8 440.0,328.5C441.1,327.2 442.0,326.4 443.2,325.0C444.4,323.6 445.9,321.5 447.3,319.8C448.7,318.1 450.0,316.6 451.4,314.7C452.8,312.8 454.1,310.3 455.5,308.5C456.9,306.7 458.4,304.9 459.6,303.9C460.8,302.9 461.6,302.7 462.6,302.4C463.6,302.1 463.5,302.1 465.7,301.9C467.9,301.6 472.5,301.2 475.9,300.9C479.3,300.5 483.3,300.3 486.2,299.8C489.1,299.3 490.7,298.8 493.0,298.0C495.3,297.2 498.2,295.1 500.2,295.3C502.2,295.5 503.2,297.7 505.0,299.0C506.8,300.3 508.3,301.9 511.1,302.9C513.9,303.9 518.4,304.4 522.0,305.1C525.6,305.8 529.2,306.6 532.8,307.3C536.3,308.0 541.5,309.0 543.3,309.4"/>
<path stroke="#ff3c46" d="M436.5,322.0L437.0,328.0L438.5,313.0L440.0,318.0L442.0,342.0L443.5,314.0L446.0,330.0L448.0,310.0L450.0,316.0L451.4,305.5L453.0,330.0L454.5,312.0L456.0,360.0L457.5,306.0L459.6,300.4L462.0,305.0L464.0,315.0L467.0,332.0L469.0,306.0L471.0,303.0L473.0,326.0L475.0,305.0L477.0,336.0L479.0,300.0L482.0,328.0L484.0,305.0L486.0,351.0L488.0,306.0L490.0,316.0L492.0,302.0L494.0,308.0L496.0,301.0L498.0,300.7L500.2,300.7L502.4,313.8L504.0,336.0L505.5,306.0L508.0,304.0L511.0,307.0L513.3,311.6L515.4,304.9L517.6,308.3L519.8,314.9L522.0,309.4L524.2,311.6L526.3,306.2L528.0,348.0L530.0,316.0L532.0,310.0L534.0,319.0L536.0,310.0L538.6,340.0L540.0,312.0L541.5,307.3L543.3,309.4"/>
<path stroke="#3c46ff" d="M436.5,335.5C437.1,334.8 438.8,332.3 440.0,331.0C441.2,329.7 442.4,328.5 443.5,327.5C444.6,326.5 445.0,326.3 446.3,325.0C447.6,323.7 449.7,321.5 451.4,319.8C453.1,318.1 454.8,316.2 456.5,314.7C458.2,313.2 459.7,311.7 461.6,310.6C463.5,309.5 465.4,308.7 467.8,308.0C470.2,307.3 472.8,306.8 475.9,306.5C479.0,306.2 483.6,306.2 486.2,306.0C488.8,305.8 490.0,305.9 491.5,305.1C493.0,304.4 493.9,302.8 495.0,301.5C496.1,300.2 497.1,298.7 498.0,297.5C498.9,296.3 499.1,294.4 500.2,294.2C501.3,294.0 502.8,295.1 504.6,296.5C506.4,297.9 509.1,301.5 511.1,302.9C513.1,304.3 514.7,304.3 516.5,305.0C518.3,305.7 520.2,306.5 522.0,307.3C523.8,308.1 525.6,309.1 527.4,310.0C529.2,310.9 531.0,311.7 532.8,312.7C534.6,313.7 536.2,314.9 538.0,316.0C539.8,317.1 542.4,318.7 543.3,319.2"/>
<path stroke="#262626" d="M436.5,307.0C437.2,307.0 439.6,307.3 441.0,307.0C442.4,306.7 444.0,305.4 445.2,305.0C446.4,304.6 447.4,304.7 448.3,304.4C449.2,304.1 449.7,303.7 450.4,303.4C451.1,303.1 451.5,302.6 452.4,302.4C453.2,302.1 454.5,302.4 455.5,301.9C456.5,301.4 456.8,299.7 458.5,299.3C460.2,298.9 463.6,299.3 465.7,299.3C467.8,299.3 469.1,299.3 470.8,299.3C472.5,299.3 474.2,299.2 475.9,299.3C477.6,299.4 479.3,299.8 481.0,299.8C482.7,299.8 484.4,299.3 486.2,299.3C487.9,299.3 490.0,299.8 491.5,299.7C493.0,299.6 493.9,299.0 495.0,298.5C496.1,298.0 497.1,296.8 498.0,296.8C498.9,296.9 499.5,296.3 500.2,298.8C500.9,301.3 501.7,308.0 502.4,311.6C503.1,315.2 503.9,320.3 504.6,320.3C505.3,320.3 506.0,315.0 506.7,311.6C507.4,308.2 507.4,301.7 508.9,299.7C510.4,297.7 513.9,299.5 515.5,299.7C517.1,299.9 517.4,301.0 518.5,301.0C519.6,301.0 519.6,299.9 522.0,299.7C524.4,299.5 529.2,299.7 532.8,299.7C536.3,299.7 541.5,299.7 543.3,299.7"/>
<path stroke="#ff9030" d="M436.5,302.4C437.2,302.1 439.6,301.2 441.0,300.5C442.4,299.8 443.6,299.2 445.2,298.3C446.8,297.4 448.7,296.1 450.4,295.2C452.1,294.3 453.8,293.7 455.5,293.2C457.2,292.7 458.9,292.4 460.6,292.2C462.3,292.0 464.0,292.1 465.7,292.0C467.4,291.9 469.1,291.7 470.8,291.7C472.5,291.7 474.3,291.9 476.0,292.0C477.7,292.1 479.4,292.1 481.1,292.2C482.8,292.3 484.5,292.8 486.2,292.7C487.9,292.6 489.9,291.8 491.5,291.5C493.1,291.2 494.6,291.0 496.0,290.8C497.4,290.6 498.6,290.3 500.2,290.3C501.8,290.3 503.8,290.8 505.6,291.0C507.4,291.2 509.3,291.4 511.1,291.6C512.9,291.8 514.7,292.1 516.5,292.4C518.3,292.6 520.2,292.9 522.0,293.1C523.8,293.3 525.6,293.4 527.4,293.5C529.2,293.6 531.0,293.6 532.8,293.8C534.6,294.0 536.3,294.2 538.0,294.5C539.7,294.8 542.1,295.2 542.9,295.3"/>
</g>
<rect x="436.40" y="280.40" width="106.90" height="81.40" fill="none" stroke="#c4c4c4" stroke-width="0.7"/>
<text x="457.78" y="368.50" font-size="4.8" fill="#4a4a4a" text-anchor="middle">20</text>
<text x="486.29" y="368.50" font-size="4.8" fill="#4a4a4a" text-anchor="middle">40</text>
<text x="514.79" y="368.50" font-size="4.8" fill="#4a4a4a" text-anchor="middle">60</text>
<text x="543.30" y="368.50" font-size="4.8" fill="#4a4a4a" text-anchor="middle">80</text>
<text x="434.80" y="363.90" font-size="4.7" fill="#4a4a4a" text-anchor="end">0.7</text>
<text x="434.80" y="336.77" font-size="4.7" fill="#4a4a4a" text-anchor="end">0.8</text>
<text x="434.80" y="309.63" font-size="4.7" fill="#4a4a4a" text-anchor="end">0.9</text>
<text x="434.80" y="282.50" font-size="4.7" fill="#4a4a4a" text-anchor="end">1</text>
<path d="M457.78,361.80v-1.1M457.78,280.40v1.1M486.29,361.80v-1.1M486.29,280.40v1.1M514.79,361.80v-1.1M514.79,280.40v1.1M543.30,361.80v-1.1M543.30,280.40v1.1M436.40,361.80h1.1M543.30,361.80h-1.1M436.40,334.67h1.1M543.30,334.67h-1.1M436.40,307.53h1.1M543.30,307.53h-1.1M436.40,280.40h1.1M543.30,280.40h-1.1" stroke="#c4c4c4" stroke-width="0.6" fill="none"/>
<text x="489.85" y="374.90" font-size="5.05" fill="#303030" text-anchor="middle">band number</text>
<text transform="translate(427.30,321.10) rotate(-90)" font-size="5" fill="#303030" text-anchor="middle">SSIM</text>
<text x="483.95" y="384.40" font-size="9.6" font-weight="bold" font-family="Liberation Serif, serif" fill="#111" text-anchor="middle">(l)</text>
<rect x="81.8" y="3.9" width="389.8" height="12.4" fill="#fff" stroke="#bdbdbd" stroke-width="0.7"/>
<line x1="83.2" y1="10.2" x2="97.8" y2="10.2" stroke="#5a6ee0" stroke-width="0.9"/>
<text x="99.7" y="12.6" font-size="6.45" fill="#161616">WNNM</text>
<line x1="123.3" y1="10.2" x2="138.5" y2="10.2" stroke="#f05a5a" stroke-width="0.9"/>
<text x="139.9" y="12.6" font-size="6.45" fill="#161616">LRMR</text>
<line x1="161.6" y1="10.2" x2="176.5" y2="10.2" stroke="#d878d8" stroke-width="0.9"/>
<text x="178.4" y="12.6" font-size="6.45" fill="#161616">WSNM</text>
<line x1="201.6" y1="10.2" x2="216.6" y2="10.2" stroke="#f0f040" stroke-width="0.9"/>
<text x="218.5" y="12.6" font-size="6.45" fill="#161616">LRTV</text>
<line x1="238.3" y1="10.2" x2="252.9" y2="10.2" stroke="#505050" stroke-width="0.9"/>
<text x="254.7" y="12.6" font-size="6.45" fill="#161616">LRTDTV</text>
<line x1="283.3" y1="10.2" x2="298.1" y2="10.2" stroke="#a070d8" stroke-width="0.9"/>
<text x="299.9" y="12.6" font-size="6.45" fill="#161616">LRTDGS</text>
<line x1="329.0" y1="10.2" x2="343.9" y2="10.2" stroke="#70d070" stroke-width="0.9"/>
<text x="345.8" y="12.6" font-size="6.45" fill="#161616">FGSLR<tspan font-size="5.2" dy="2.3">2/3</tspan></text>
<line x1="377.9" y1="10.2" x2="392.8" y2="10.2" stroke="#80d8e8" stroke-width="0.9"/>
<text x="394.7" y="12.6" font-size="6.45" fill="#161616">FGSLR<tspan font-size="5.2" dy="2.3">1/2</tspan></text>
<line x1="426.9" y1="10.2" x2="442.2" y2="10.2" stroke="#f0a060" stroke-width="0.9"/>
<text x="443.6" y="12.6" font-size="6.45" fill="#161616">GHSSTV</text>
</svg></body></html>
